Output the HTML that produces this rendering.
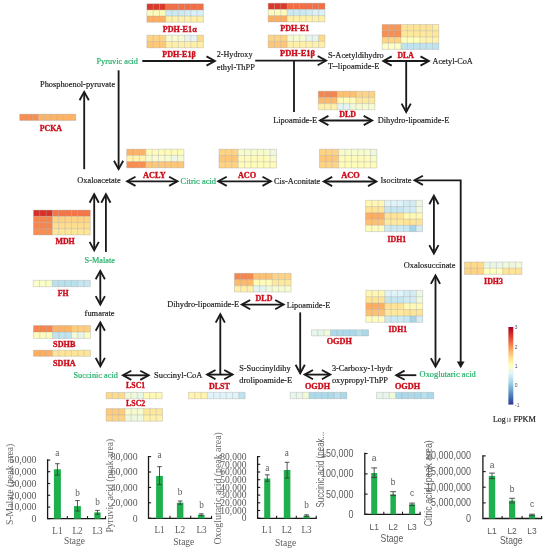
<!DOCTYPE html>
<html><head><meta charset="utf-8"><title>TCA cycle</title>
<style>html,body{margin:0;padding:0;background:#fff;width:545px;height:550px;overflow:hidden}svg{display:block}</style>
</head><body>
<svg width="545" height="550" viewBox="0 0 545 550">
<rect width="545" height="550" fill="#fff"/>
<defs><linearGradient id="cb" x1="0" y1="0" x2="0" y2="1"><stop offset="0.0" stop-color="#a50026"/><stop offset="0.1" stop-color="#d73027"/><stop offset="0.2" stop-color="#f46d43"/><stop offset="0.3" stop-color="#fdae61"/><stop offset="0.4" stop-color="#fee090"/><stop offset="0.5" stop-color="#ffffbf"/><stop offset="0.6" stop-color="#e0f3f8"/><stop offset="0.7" stop-color="#abd9e9"/><stop offset="0.8" stop-color="#74add1"/><stop offset="0.9" stop-color="#4575b4"/><stop offset="1.0" stop-color="#313695"/></linearGradient></defs>
<rect x="146.90" y="3.80" width="6.33" height="6.18" fill="#db382a"/>
<rect x="153.18" y="3.80" width="6.33" height="6.18" fill="#db382a"/>
<rect x="159.46" y="3.80" width="6.33" height="6.18" fill="#db382a"/>
<rect x="165.73" y="3.80" width="6.33" height="6.18" fill="#f46d43"/>
<rect x="172.01" y="3.80" width="6.33" height="6.18" fill="#f46d43"/>
<rect x="178.29" y="3.80" width="6.33" height="6.18" fill="#f46d43"/>
<rect x="184.57" y="3.80" width="6.33" height="6.18" fill="#f46d43"/>
<rect x="190.84" y="3.80" width="6.33" height="6.18" fill="#f46d43"/>
<rect x="197.12" y="3.80" width="6.33" height="6.18" fill="#f46d43"/>
<rect x="146.90" y="9.93" width="6.33" height="6.18" fill="#fffbb9"/>
<rect x="153.18" y="9.93" width="6.33" height="6.18" fill="#fffbb9"/>
<rect x="159.46" y="9.93" width="6.33" height="6.18" fill="#fffbb9"/>
<rect x="165.73" y="9.93" width="6.33" height="6.18" fill="#cce9f2"/>
<rect x="172.01" y="9.93" width="6.33" height="6.18" fill="#cce9f2"/>
<rect x="178.29" y="9.93" width="6.33" height="6.18" fill="#cce9f2"/>
<rect x="184.57" y="9.93" width="6.33" height="6.18" fill="#d3ecf4"/>
<rect x="190.84" y="9.93" width="6.33" height="6.18" fill="#d9f0f6"/>
<rect x="197.12" y="9.93" width="6.33" height="6.18" fill="#d9f0f6"/>
<rect x="146.90" y="16.07" width="6.33" height="6.18" fill="#fdae61"/>
<rect x="153.18" y="16.07" width="6.33" height="6.18" fill="#fdae61"/>
<rect x="159.46" y="16.07" width="6.33" height="6.18" fill="#fdae61"/>
<rect x="165.73" y="16.07" width="6.33" height="6.18" fill="#fef0a8"/>
<rect x="172.01" y="16.07" width="6.33" height="6.18" fill="#fef0a8"/>
<rect x="178.29" y="16.07" width="6.33" height="6.18" fill="#fef0a8"/>
<rect x="184.57" y="16.07" width="6.33" height="6.18" fill="#fef0a8"/>
<rect x="190.84" y="16.07" width="6.33" height="6.18" fill="#fef0a8"/>
<rect x="197.12" y="16.07" width="6.33" height="6.18" fill="#fef0a8"/>
<path d="M153.18 3.80V22.20M159.46 3.80V22.20M165.73 3.80V22.20M172.01 3.80V22.20M178.29 3.80V22.20M184.57 3.80V22.20M190.84 3.80V22.20M197.12 3.80V22.20M146.90 9.93H203.40M146.90 16.07H203.40M146.90 3.80H203.40V22.20H146.90Z" fill="none" stroke="#9a9a9a" stroke-opacity="0.6" stroke-width="0.55"/>
<rect x="146.90" y="35.20" width="6.33" height="6.35" fill="#fed484"/>
<rect x="153.18" y="35.20" width="6.33" height="6.35" fill="#fed484"/>
<rect x="159.46" y="35.20" width="6.33" height="6.35" fill="#fed484"/>
<rect x="165.73" y="35.20" width="6.33" height="6.35" fill="#f3fad4"/>
<rect x="172.01" y="35.20" width="6.33" height="6.35" fill="#f6fbd0"/>
<rect x="178.29" y="35.20" width="6.33" height="6.35" fill="#f6fbd0"/>
<rect x="184.57" y="35.20" width="6.33" height="6.35" fill="#e6f5ed"/>
<rect x="190.84" y="35.20" width="6.33" height="6.35" fill="#e6f5ed"/>
<rect x="197.12" y="35.20" width="6.33" height="6.35" fill="#feda8a"/>
<rect x="146.90" y="41.50" width="6.33" height="6.35" fill="#fec778"/>
<rect x="153.18" y="41.50" width="6.33" height="6.35" fill="#fec778"/>
<rect x="159.46" y="41.50" width="6.33" height="6.35" fill="#fec778"/>
<rect x="165.73" y="41.50" width="6.33" height="6.35" fill="#fef0a8"/>
<rect x="172.01" y="41.50" width="6.33" height="6.35" fill="#fef0a8"/>
<rect x="178.29" y="41.50" width="6.33" height="6.35" fill="#fef0a8"/>
<rect x="184.57" y="41.50" width="6.33" height="6.35" fill="#fef0a8"/>
<rect x="190.84" y="41.50" width="6.33" height="6.35" fill="#fef0a8"/>
<rect x="197.12" y="41.50" width="6.33" height="6.35" fill="#fef0a8"/>
<path d="M153.18 35.20V47.80M159.46 35.20V47.80M165.73 35.20V47.80M172.01 35.20V47.80M178.29 35.20V47.80M184.57 35.20V47.80M190.84 35.20V47.80M197.12 35.20V47.80M146.90 41.50H203.40M146.90 35.20H203.40V47.80H146.90Z" fill="none" stroke="#9a9a9a" stroke-opacity="0.6" stroke-width="0.55"/>
<rect x="268.20" y="3.20" width="6.35" height="6.28" fill="#db382a"/>
<rect x="274.50" y="3.20" width="6.35" height="6.28" fill="#db382a"/>
<rect x="280.80" y="3.20" width="6.35" height="6.28" fill="#db382a"/>
<rect x="287.10" y="3.20" width="6.35" height="6.28" fill="#f46d43"/>
<rect x="293.40" y="3.20" width="6.35" height="6.28" fill="#f46d43"/>
<rect x="299.70" y="3.20" width="6.35" height="6.28" fill="#f46d43"/>
<rect x="306.00" y="3.20" width="6.35" height="6.28" fill="#f46d43"/>
<rect x="312.30" y="3.20" width="6.35" height="6.28" fill="#f46d43"/>
<rect x="318.60" y="3.20" width="6.35" height="6.28" fill="#f46d43"/>
<rect x="268.20" y="9.43" width="6.35" height="6.28" fill="#fffbb9"/>
<rect x="274.50" y="9.43" width="6.35" height="6.28" fill="#fffbb9"/>
<rect x="280.80" y="9.43" width="6.35" height="6.28" fill="#fffbb9"/>
<rect x="287.10" y="9.43" width="6.35" height="6.28" fill="#cce9f2"/>
<rect x="293.40" y="9.43" width="6.35" height="6.28" fill="#cce9f2"/>
<rect x="299.70" y="9.43" width="6.35" height="6.28" fill="#cce9f2"/>
<rect x="306.00" y="9.43" width="6.35" height="6.28" fill="#d3ecf4"/>
<rect x="312.30" y="9.43" width="6.35" height="6.28" fill="#d9f0f6"/>
<rect x="318.60" y="9.43" width="6.35" height="6.28" fill="#d9f0f6"/>
<rect x="268.20" y="15.67" width="6.35" height="6.28" fill="#fdae61"/>
<rect x="274.50" y="15.67" width="6.35" height="6.28" fill="#fdae61"/>
<rect x="280.80" y="15.67" width="6.35" height="6.28" fill="#fdae61"/>
<rect x="287.10" y="15.67" width="6.35" height="6.28" fill="#fef0a8"/>
<rect x="293.40" y="15.67" width="6.35" height="6.28" fill="#fef0a8"/>
<rect x="299.70" y="15.67" width="6.35" height="6.28" fill="#fef0a8"/>
<rect x="306.00" y="15.67" width="6.35" height="6.28" fill="#fef0a8"/>
<rect x="312.30" y="15.67" width="6.35" height="6.28" fill="#fef0a8"/>
<rect x="318.60" y="15.67" width="6.35" height="6.28" fill="#fef0a8"/>
<path d="M274.50 3.20V21.90M280.80 3.20V21.90M287.10 3.20V21.90M293.40 3.20V21.90M299.70 3.20V21.90M306.00 3.20V21.90M312.30 3.20V21.90M318.60 3.20V21.90M268.20 9.43H324.90M268.20 15.67H324.90M268.20 3.20H324.90V21.90H268.20Z" fill="none" stroke="#9a9a9a" stroke-opacity="0.6" stroke-width="0.55"/>
<rect x="268.20" y="35.00" width="6.35" height="6.40" fill="#fed484"/>
<rect x="274.50" y="35.00" width="6.35" height="6.40" fill="#fed484"/>
<rect x="280.80" y="35.00" width="6.35" height="6.40" fill="#fed484"/>
<rect x="287.10" y="35.00" width="6.35" height="6.40" fill="#f3fad4"/>
<rect x="293.40" y="35.00" width="6.35" height="6.40" fill="#f6fbd0"/>
<rect x="299.70" y="35.00" width="6.35" height="6.40" fill="#f6fbd0"/>
<rect x="306.00" y="35.00" width="6.35" height="6.40" fill="#e6f5ed"/>
<rect x="312.30" y="35.00" width="6.35" height="6.40" fill="#e6f5ed"/>
<rect x="318.60" y="35.00" width="6.35" height="6.40" fill="#feda8a"/>
<rect x="268.20" y="41.35" width="6.35" height="6.40" fill="#fec778"/>
<rect x="274.50" y="41.35" width="6.35" height="6.40" fill="#fec778"/>
<rect x="280.80" y="41.35" width="6.35" height="6.40" fill="#fec778"/>
<rect x="287.10" y="41.35" width="6.35" height="6.40" fill="#fef0a8"/>
<rect x="293.40" y="41.35" width="6.35" height="6.40" fill="#fef0a8"/>
<rect x="299.70" y="41.35" width="6.35" height="6.40" fill="#fef0a8"/>
<rect x="306.00" y="41.35" width="6.35" height="6.40" fill="#fef0a8"/>
<rect x="312.30" y="41.35" width="6.35" height="6.40" fill="#fef0a8"/>
<rect x="318.60" y="41.35" width="6.35" height="6.40" fill="#fef0a8"/>
<path d="M274.50 35.00V47.70M280.80 35.00V47.70M287.10 35.00V47.70M293.40 35.00V47.70M299.70 35.00V47.70M306.00 35.00V47.70M312.30 35.00V47.70M318.60 35.00V47.70M268.20 41.35H324.90M268.20 35.00H324.90V47.70H268.20Z" fill="none" stroke="#9a9a9a" stroke-opacity="0.6" stroke-width="0.55"/>
<rect x="382.10" y="24.50" width="6.35" height="6.27" fill="#fa9656"/>
<rect x="388.40" y="24.50" width="6.35" height="6.27" fill="#fa9656"/>
<rect x="394.70" y="24.50" width="6.35" height="6.27" fill="#fa9656"/>
<rect x="401.00" y="24.50" width="6.35" height="6.27" fill="#fee496"/>
<rect x="407.30" y="24.50" width="6.35" height="6.27" fill="#fee496"/>
<rect x="413.60" y="24.50" width="6.35" height="6.27" fill="#fee496"/>
<rect x="419.90" y="24.50" width="6.35" height="6.27" fill="#fee496"/>
<rect x="426.20" y="24.50" width="6.35" height="6.27" fill="#fee496"/>
<rect x="432.50" y="24.50" width="6.35" height="6.27" fill="#feeca2"/>
<rect x="382.10" y="30.73" width="6.35" height="6.27" fill="#f88e52"/>
<rect x="388.40" y="30.73" width="6.35" height="6.27" fill="#f88e52"/>
<rect x="394.70" y="30.73" width="6.35" height="6.27" fill="#f88e52"/>
<rect x="401.00" y="30.73" width="6.35" height="6.27" fill="#fee89c"/>
<rect x="407.30" y="30.73" width="6.35" height="6.27" fill="#fee89c"/>
<rect x="413.60" y="30.73" width="6.35" height="6.27" fill="#fee89c"/>
<rect x="419.90" y="30.73" width="6.35" height="6.27" fill="#fee89c"/>
<rect x="426.20" y="30.73" width="6.35" height="6.27" fill="#fee89c"/>
<rect x="432.50" y="30.73" width="6.35" height="6.27" fill="#fee89c"/>
<rect x="382.10" y="36.95" width="6.35" height="6.27" fill="#fed484"/>
<rect x="388.40" y="36.95" width="6.35" height="6.27" fill="#fed484"/>
<rect x="394.70" y="36.95" width="6.35" height="6.27" fill="#fed484"/>
<rect x="401.00" y="36.95" width="6.35" height="6.27" fill="#ffffbf"/>
<rect x="407.30" y="36.95" width="6.35" height="6.27" fill="#ffffbf"/>
<rect x="413.60" y="36.95" width="6.35" height="6.27" fill="#ffffbf"/>
<rect x="419.90" y="36.95" width="6.35" height="6.27" fill="#fff3ad"/>
<rect x="426.20" y="36.95" width="6.35" height="6.27" fill="#fff3ad"/>
<rect x="432.50" y="36.95" width="6.35" height="6.27" fill="#fff3ad"/>
<rect x="382.10" y="43.17" width="6.35" height="6.27" fill="#fbfec6"/>
<rect x="388.40" y="43.17" width="6.35" height="6.27" fill="#fbfec6"/>
<rect x="394.70" y="43.17" width="6.35" height="6.27" fill="#fbfec6"/>
<rect x="401.00" y="43.17" width="6.35" height="6.27" fill="#bfe3ef"/>
<rect x="407.30" y="43.17" width="6.35" height="6.27" fill="#bfe3ef"/>
<rect x="413.60" y="43.17" width="6.35" height="6.27" fill="#bfe3ef"/>
<rect x="419.90" y="43.17" width="6.35" height="6.27" fill="#bfe3ef"/>
<rect x="426.20" y="43.17" width="6.35" height="6.27" fill="#bfe3ef"/>
<rect x="432.50" y="43.17" width="6.35" height="6.27" fill="#bfe3ef"/>
<path d="M388.40 24.50V49.40M394.70 24.50V49.40M401.00 24.50V49.40M407.30 24.50V49.40M413.60 24.50V49.40M419.90 24.50V49.40M426.20 24.50V49.40M432.50 24.50V49.40M382.10 30.73H438.80M382.10 36.95H438.80M382.10 43.17H438.80M382.10 24.50H438.80V49.40H382.10Z" fill="none" stroke="#9a9a9a" stroke-opacity="0.6" stroke-width="0.55"/>
<rect x="318.30" y="91.20" width="6.34" height="6.25" fill="#f7854e"/>
<rect x="324.59" y="91.20" width="6.34" height="6.25" fill="#f7854e"/>
<rect x="330.88" y="91.20" width="6.34" height="6.25" fill="#f7854e"/>
<rect x="337.17" y="91.20" width="6.34" height="6.25" fill="#fdc173"/>
<rect x="343.46" y="91.20" width="6.34" height="6.25" fill="#fdc173"/>
<rect x="349.74" y="91.20" width="6.34" height="6.25" fill="#fdc173"/>
<rect x="356.03" y="91.20" width="6.34" height="6.25" fill="#fed484"/>
<rect x="362.32" y="91.20" width="6.34" height="6.25" fill="#fed484"/>
<rect x="368.61" y="91.20" width="6.34" height="6.25" fill="#fed484"/>
<rect x="318.30" y="97.40" width="6.34" height="6.25" fill="#fdba6d"/>
<rect x="324.59" y="97.40" width="6.34" height="6.25" fill="#fdba6d"/>
<rect x="330.88" y="97.40" width="6.34" height="6.25" fill="#fdba6d"/>
<rect x="337.17" y="97.40" width="6.34" height="6.25" fill="#fffbb9"/>
<rect x="343.46" y="97.40" width="6.34" height="6.25" fill="#fffbb9"/>
<rect x="349.74" y="97.40" width="6.34" height="6.25" fill="#fffbb9"/>
<rect x="356.03" y="97.40" width="6.34" height="6.25" fill="#fee89c"/>
<rect x="362.32" y="97.40" width="6.34" height="6.25" fill="#fee89c"/>
<rect x="368.61" y="97.40" width="6.34" height="6.25" fill="#fee89c"/>
<rect x="318.30" y="103.60" width="6.34" height="6.25" fill="#fef0a8"/>
<rect x="324.59" y="103.60" width="6.34" height="6.25" fill="#fef0a8"/>
<rect x="330.88" y="103.60" width="6.34" height="6.25" fill="#fef0a8"/>
<rect x="337.17" y="103.60" width="6.34" height="6.25" fill="#e4f4f1"/>
<rect x="343.46" y="103.60" width="6.34" height="6.25" fill="#e4f4f1"/>
<rect x="349.74" y="103.60" width="6.34" height="6.25" fill="#f0f9dc"/>
<rect x="356.03" y="103.60" width="6.34" height="6.25" fill="#f6fbd0"/>
<rect x="362.32" y="103.60" width="6.34" height="6.25" fill="#f6fbd0"/>
<rect x="368.61" y="103.60" width="6.34" height="6.25" fill="#f6fbd0"/>
<path d="M324.59 91.20V109.80M330.88 91.20V109.80M337.17 91.20V109.80M343.46 91.20V109.80M349.74 91.20V109.80M356.03 91.20V109.80M362.32 91.20V109.80M368.61 91.20V109.80M318.30 97.40H374.90M318.30 103.60H374.90M318.30 91.20H374.90V109.80H318.30Z" fill="none" stroke="#9a9a9a" stroke-opacity="0.6" stroke-width="0.55"/>
<rect x="19.70" y="114.20" width="6.28" height="6.25" fill="#f88e52"/>
<rect x="25.93" y="114.20" width="6.28" height="6.25" fill="#f88e52"/>
<rect x="32.17" y="114.20" width="6.28" height="6.25" fill="#f88e52"/>
<rect x="38.40" y="114.20" width="6.28" height="6.25" fill="#fdb467"/>
<rect x="44.63" y="114.20" width="6.28" height="6.25" fill="#fdb467"/>
<rect x="50.87" y="114.20" width="6.28" height="6.25" fill="#fdb467"/>
<rect x="57.10" y="114.20" width="6.28" height="6.25" fill="#fdb467"/>
<rect x="63.33" y="114.20" width="6.28" height="6.25" fill="#fdb467"/>
<rect x="69.57" y="114.20" width="6.28" height="6.25" fill="#fdb467"/>
<path d="M25.93 114.20V120.40M32.17 114.20V120.40M38.40 114.20V120.40M44.63 114.20V120.40M50.87 114.20V120.40M57.10 114.20V120.40M63.33 114.20V120.40M69.57 114.20V120.40M19.70 114.20H75.80V120.40H19.70Z" fill="none" stroke="#9a9a9a" stroke-opacity="0.6" stroke-width="0.55"/>
<rect x="126.70" y="149.20" width="6.41" height="6.25" fill="#fdb467"/>
<rect x="133.06" y="149.20" width="6.41" height="6.25" fill="#fdb467"/>
<rect x="139.41" y="149.20" width="6.41" height="6.25" fill="#fdb467"/>
<rect x="145.77" y="149.20" width="6.41" height="6.25" fill="#fffbb9"/>
<rect x="152.12" y="149.20" width="6.41" height="6.25" fill="#fffbb9"/>
<rect x="158.48" y="149.20" width="6.41" height="6.25" fill="#fffbb9"/>
<rect x="164.83" y="149.20" width="6.41" height="6.25" fill="#fffbb9"/>
<rect x="171.19" y="149.20" width="6.41" height="6.25" fill="#fffbb9"/>
<rect x="177.54" y="149.20" width="6.41" height="6.25" fill="#fffbb9"/>
<rect x="126.70" y="155.40" width="6.41" height="6.25" fill="#fff3ad"/>
<rect x="133.06" y="155.40" width="6.41" height="6.25" fill="#fff3ad"/>
<rect x="139.41" y="155.40" width="6.41" height="6.25" fill="#fff3ad"/>
<rect x="145.77" y="155.40" width="6.41" height="6.25" fill="#f6fbd0"/>
<rect x="152.12" y="155.40" width="6.41" height="6.25" fill="#f6fbd0"/>
<rect x="158.48" y="155.40" width="6.41" height="6.25" fill="#f6fbd0"/>
<rect x="164.83" y="155.40" width="6.41" height="6.25" fill="#f6fbd0"/>
<rect x="171.19" y="155.40" width="6.41" height="6.25" fill="#ecf8e3"/>
<rect x="177.54" y="155.40" width="6.41" height="6.25" fill="#f6fbd0"/>
<rect x="126.70" y="161.60" width="6.41" height="6.25" fill="#f88e52"/>
<rect x="133.06" y="161.60" width="6.41" height="6.25" fill="#f88e52"/>
<rect x="139.41" y="161.60" width="6.41" height="6.25" fill="#f88e52"/>
<rect x="145.77" y="161.60" width="6.41" height="6.25" fill="#fec778"/>
<rect x="152.12" y="161.60" width="6.41" height="6.25" fill="#fec778"/>
<rect x="158.48" y="161.60" width="6.41" height="6.25" fill="#fec778"/>
<rect x="164.83" y="161.60" width="6.41" height="6.25" fill="#fec778"/>
<rect x="171.19" y="161.60" width="6.41" height="6.25" fill="#fec778"/>
<rect x="177.54" y="161.60" width="6.41" height="6.25" fill="#fec778"/>
<path d="M133.06 149.20V167.80M139.41 149.20V167.80M145.77 149.20V167.80M152.12 149.20V167.80M158.48 149.20V167.80M164.83 149.20V167.80M171.19 149.20V167.80M177.54 149.20V167.80M126.70 155.40H183.90M126.70 161.60H183.90M126.70 149.20H183.90V167.80H126.70Z" fill="none" stroke="#9a9a9a" stroke-opacity="0.6" stroke-width="0.55"/>
<rect x="219.00" y="149.20" width="6.44" height="6.32" fill="#fed484"/>
<rect x="225.39" y="149.20" width="6.44" height="6.32" fill="#fed484"/>
<rect x="231.78" y="149.20" width="6.44" height="6.32" fill="#fed484"/>
<rect x="238.17" y="149.20" width="6.44" height="6.32" fill="#f7fccd"/>
<rect x="244.56" y="149.20" width="6.44" height="6.32" fill="#f7fccd"/>
<rect x="250.94" y="149.20" width="6.44" height="6.32" fill="#f7fccd"/>
<rect x="257.33" y="149.20" width="6.44" height="6.32" fill="#f7fccd"/>
<rect x="263.72" y="149.20" width="6.44" height="6.32" fill="#f7fccd"/>
<rect x="270.11" y="149.20" width="6.44" height="6.32" fill="#eef8de"/>
<rect x="219.00" y="155.47" width="6.44" height="6.32" fill="#fec778"/>
<rect x="225.39" y="155.47" width="6.44" height="6.32" fill="#fec778"/>
<rect x="231.78" y="155.47" width="6.44" height="6.32" fill="#fec778"/>
<rect x="238.17" y="155.47" width="6.44" height="6.32" fill="#fffbb9"/>
<rect x="244.56" y="155.47" width="6.44" height="6.32" fill="#fffbb9"/>
<rect x="250.94" y="155.47" width="6.44" height="6.32" fill="#fffbb9"/>
<rect x="257.33" y="155.47" width="6.44" height="6.32" fill="#fffbb9"/>
<rect x="263.72" y="155.47" width="6.44" height="6.32" fill="#fffbb9"/>
<rect x="270.11" y="155.47" width="6.44" height="6.32" fill="#f7fccd"/>
<rect x="219.00" y="161.73" width="6.44" height="6.32" fill="#fed484"/>
<rect x="225.39" y="161.73" width="6.44" height="6.32" fill="#fed484"/>
<rect x="231.78" y="161.73" width="6.44" height="6.32" fill="#fed484"/>
<rect x="238.17" y="161.73" width="6.44" height="6.32" fill="#fffbb9"/>
<rect x="244.56" y="161.73" width="6.44" height="6.32" fill="#fffbb9"/>
<rect x="250.94" y="161.73" width="6.44" height="6.32" fill="#fffbb9"/>
<rect x="257.33" y="161.73" width="6.44" height="6.32" fill="#fffbb9"/>
<rect x="263.72" y="161.73" width="6.44" height="6.32" fill="#fffbb9"/>
<rect x="270.11" y="161.73" width="6.44" height="6.32" fill="#fffbb9"/>
<path d="M225.39 149.20V168.00M231.78 149.20V168.00M238.17 149.20V168.00M244.56 149.20V168.00M250.94 149.20V168.00M257.33 149.20V168.00M263.72 149.20V168.00M270.11 149.20V168.00M219.00 155.47H276.50M219.00 161.73H276.50M219.00 149.20H276.50V168.00H219.00Z" fill="none" stroke="#9a9a9a" stroke-opacity="0.6" stroke-width="0.55"/>
<rect x="319.50" y="149.20" width="6.43" height="6.32" fill="#fed484"/>
<rect x="325.88" y="149.20" width="6.43" height="6.32" fill="#fed484"/>
<rect x="332.26" y="149.20" width="6.43" height="6.32" fill="#fed484"/>
<rect x="338.63" y="149.20" width="6.43" height="6.32" fill="#f7fccd"/>
<rect x="345.01" y="149.20" width="6.43" height="6.32" fill="#f7fccd"/>
<rect x="351.39" y="149.20" width="6.43" height="6.32" fill="#f7fccd"/>
<rect x="357.77" y="149.20" width="6.43" height="6.32" fill="#f7fccd"/>
<rect x="364.14" y="149.20" width="6.43" height="6.32" fill="#f7fccd"/>
<rect x="370.52" y="149.20" width="6.43" height="6.32" fill="#eef8de"/>
<rect x="319.50" y="155.47" width="6.43" height="6.32" fill="#fec778"/>
<rect x="325.88" y="155.47" width="6.43" height="6.32" fill="#fec778"/>
<rect x="332.26" y="155.47" width="6.43" height="6.32" fill="#fec778"/>
<rect x="338.63" y="155.47" width="6.43" height="6.32" fill="#fffbb9"/>
<rect x="345.01" y="155.47" width="6.43" height="6.32" fill="#fffbb9"/>
<rect x="351.39" y="155.47" width="6.43" height="6.32" fill="#fffbb9"/>
<rect x="357.77" y="155.47" width="6.43" height="6.32" fill="#fffbb9"/>
<rect x="364.14" y="155.47" width="6.43" height="6.32" fill="#fffbb9"/>
<rect x="370.52" y="155.47" width="6.43" height="6.32" fill="#f7fccd"/>
<rect x="319.50" y="161.73" width="6.43" height="6.32" fill="#fed484"/>
<rect x="325.88" y="161.73" width="6.43" height="6.32" fill="#fed484"/>
<rect x="332.26" y="161.73" width="6.43" height="6.32" fill="#fed484"/>
<rect x="338.63" y="161.73" width="6.43" height="6.32" fill="#fffbb9"/>
<rect x="345.01" y="161.73" width="6.43" height="6.32" fill="#fffbb9"/>
<rect x="351.39" y="161.73" width="6.43" height="6.32" fill="#fffbb9"/>
<rect x="357.77" y="161.73" width="6.43" height="6.32" fill="#fffbb9"/>
<rect x="364.14" y="161.73" width="6.43" height="6.32" fill="#fffbb9"/>
<rect x="370.52" y="161.73" width="6.43" height="6.32" fill="#fffbb9"/>
<path d="M325.88 149.20V168.00M332.26 149.20V168.00M338.63 149.20V168.00M345.01 149.20V168.00M351.39 149.20V168.00M357.77 149.20V168.00M364.14 149.20V168.00M370.52 149.20V168.00M319.50 155.47H376.90M319.50 161.73H376.90M319.50 149.20H376.90V168.00H319.50Z" fill="none" stroke="#9a9a9a" stroke-opacity="0.6" stroke-width="0.55"/>
<rect x="365.50" y="200.30" width="6.38" height="6.31" fill="#fff6b1"/>
<rect x="371.83" y="200.30" width="6.38" height="6.31" fill="#fff6b1"/>
<rect x="378.17" y="200.30" width="6.38" height="6.31" fill="#fff6b1"/>
<rect x="384.50" y="200.30" width="6.38" height="6.31" fill="#e0f3f8"/>
<rect x="390.83" y="200.30" width="6.38" height="6.31" fill="#e0f3f8"/>
<rect x="397.17" y="200.30" width="6.38" height="6.31" fill="#e0f3f8"/>
<rect x="403.50" y="200.30" width="6.38" height="6.31" fill="#d3ecf4"/>
<rect x="409.83" y="200.30" width="6.38" height="6.31" fill="#d3ecf4"/>
<rect x="416.17" y="200.30" width="6.38" height="6.31" fill="#ecf8e3"/>
<rect x="365.50" y="206.56" width="6.38" height="6.31" fill="#fee496"/>
<rect x="371.83" y="206.56" width="6.38" height="6.31" fill="#fee496"/>
<rect x="378.17" y="206.56" width="6.38" height="6.31" fill="#fee496"/>
<rect x="384.50" y="206.56" width="6.38" height="6.31" fill="#c6e6f0"/>
<rect x="390.83" y="206.56" width="6.38" height="6.31" fill="#c6e6f0"/>
<rect x="397.17" y="206.56" width="6.38" height="6.31" fill="#c6e6f0"/>
<rect x="403.50" y="206.56" width="6.38" height="6.31" fill="#d3ecf4"/>
<rect x="409.83" y="206.56" width="6.38" height="6.31" fill="#d3ecf4"/>
<rect x="416.17" y="206.56" width="6.38" height="6.31" fill="#f0f9dc"/>
<rect x="365.50" y="212.82" width="6.38" height="6.31" fill="#fdae61"/>
<rect x="371.83" y="212.82" width="6.38" height="6.31" fill="#fdae61"/>
<rect x="378.17" y="212.82" width="6.38" height="6.31" fill="#fdae61"/>
<rect x="384.50" y="212.82" width="6.38" height="6.31" fill="#fee496"/>
<rect x="390.83" y="212.82" width="6.38" height="6.31" fill="#fee496"/>
<rect x="397.17" y="212.82" width="6.38" height="6.31" fill="#fee496"/>
<rect x="403.50" y="212.82" width="6.38" height="6.31" fill="#fff9b6"/>
<rect x="409.83" y="212.82" width="6.38" height="6.31" fill="#fff9b6"/>
<rect x="416.17" y="212.82" width="6.38" height="6.31" fill="#fff9b6"/>
<rect x="365.50" y="219.08" width="6.38" height="6.31" fill="#fdc173"/>
<rect x="371.83" y="219.08" width="6.38" height="6.31" fill="#fdc173"/>
<rect x="378.17" y="219.08" width="6.38" height="6.31" fill="#fdc173"/>
<rect x="384.50" y="219.08" width="6.38" height="6.31" fill="#fee99e"/>
<rect x="390.83" y="219.08" width="6.38" height="6.31" fill="#fee99e"/>
<rect x="397.17" y="219.08" width="6.38" height="6.31" fill="#fee99e"/>
<rect x="403.50" y="219.08" width="6.38" height="6.31" fill="#fee496"/>
<rect x="409.83" y="219.08" width="6.38" height="6.31" fill="#fee496"/>
<rect x="416.17" y="219.08" width="6.38" height="6.31" fill="#fee496"/>
<rect x="365.50" y="225.34" width="6.38" height="6.31" fill="#fffdbd"/>
<rect x="371.83" y="225.34" width="6.38" height="6.31" fill="#fffdbd"/>
<rect x="378.17" y="225.34" width="6.38" height="6.31" fill="#fffdbd"/>
<rect x="384.50" y="225.34" width="6.38" height="6.31" fill="#cce9f2"/>
<rect x="390.83" y="225.34" width="6.38" height="6.31" fill="#cce9f2"/>
<rect x="397.17" y="225.34" width="6.38" height="6.31" fill="#cce9f2"/>
<rect x="403.50" y="225.34" width="6.38" height="6.31" fill="#c6e6f0"/>
<rect x="409.83" y="225.34" width="6.38" height="6.31" fill="#a4d4e6"/>
<rect x="416.17" y="225.34" width="6.38" height="6.31" fill="#d3ecf4"/>
<path d="M371.83 200.30V231.60M378.17 200.30V231.60M384.50 200.30V231.60M390.83 200.30V231.60M397.17 200.30V231.60M403.50 200.30V231.60M409.83 200.30V231.60M416.17 200.30V231.60M365.50 206.56H422.50M365.50 212.82H422.50M365.50 219.08H422.50M365.50 225.34H422.50M365.50 200.30H422.50V231.60H365.50Z" fill="none" stroke="#9a9a9a" stroke-opacity="0.6" stroke-width="0.55"/>
<rect x="464.50" y="262.00" width="6.43" height="6.25" fill="#feda8a"/>
<rect x="470.88" y="262.00" width="6.43" height="6.25" fill="#feda8a"/>
<rect x="477.26" y="262.00" width="6.43" height="6.25" fill="#feda8a"/>
<rect x="483.63" y="262.00" width="6.43" height="6.25" fill="#e9f7e7"/>
<rect x="490.01" y="262.00" width="6.43" height="6.25" fill="#e9f7e7"/>
<rect x="496.39" y="262.00" width="6.43" height="6.25" fill="#e9f7e7"/>
<rect x="502.77" y="262.00" width="6.43" height="6.25" fill="#f1fad9"/>
<rect x="509.14" y="262.00" width="6.43" height="6.25" fill="#eef8de"/>
<rect x="515.52" y="262.00" width="6.43" height="6.25" fill="#f1fad9"/>
<rect x="464.50" y="268.20" width="6.43" height="6.25" fill="#fed484"/>
<rect x="470.88" y="268.20" width="6.43" height="6.25" fill="#fed484"/>
<rect x="477.26" y="268.20" width="6.43" height="6.25" fill="#fed484"/>
<rect x="483.63" y="268.20" width="6.43" height="6.25" fill="#ffffbf"/>
<rect x="490.01" y="268.20" width="6.43" height="6.25" fill="#ffffbf"/>
<rect x="496.39" y="268.20" width="6.43" height="6.25" fill="#ffffbf"/>
<rect x="502.77" y="268.20" width="6.43" height="6.25" fill="#fee496"/>
<rect x="509.14" y="268.20" width="6.43" height="6.25" fill="#fee496"/>
<rect x="515.52" y="268.20" width="6.43" height="6.25" fill="#fee496"/>
<path d="M470.88 262.00V274.40M477.26 262.00V274.40M483.63 262.00V274.40M490.01 262.00V274.40M496.39 262.00V274.40M502.77 262.00V274.40M509.14 262.00V274.40M515.52 262.00V274.40M464.50 268.20H521.90M464.50 262.00H521.90V274.40H464.50Z" fill="none" stroke="#9a9a9a" stroke-opacity="0.6" stroke-width="0.55"/>
<rect x="365.80" y="290.30" width="6.37" height="6.45" fill="#fff6b1"/>
<rect x="372.12" y="290.30" width="6.37" height="6.45" fill="#fff6b1"/>
<rect x="378.44" y="290.30" width="6.37" height="6.45" fill="#fff6b1"/>
<rect x="384.77" y="290.30" width="6.37" height="6.45" fill="#e0f3f8"/>
<rect x="391.09" y="290.30" width="6.37" height="6.45" fill="#e0f3f8"/>
<rect x="397.41" y="290.30" width="6.37" height="6.45" fill="#e0f3f8"/>
<rect x="403.73" y="290.30" width="6.37" height="6.45" fill="#d3ecf4"/>
<rect x="410.06" y="290.30" width="6.37" height="6.45" fill="#d3ecf4"/>
<rect x="416.38" y="290.30" width="6.37" height="6.45" fill="#ecf8e3"/>
<rect x="365.80" y="296.70" width="6.37" height="6.45" fill="#fee496"/>
<rect x="372.12" y="296.70" width="6.37" height="6.45" fill="#fee496"/>
<rect x="378.44" y="296.70" width="6.37" height="6.45" fill="#fee496"/>
<rect x="384.77" y="296.70" width="6.37" height="6.45" fill="#c6e6f0"/>
<rect x="391.09" y="296.70" width="6.37" height="6.45" fill="#c6e6f0"/>
<rect x="397.41" y="296.70" width="6.37" height="6.45" fill="#c6e6f0"/>
<rect x="403.73" y="296.70" width="6.37" height="6.45" fill="#d3ecf4"/>
<rect x="410.06" y="296.70" width="6.37" height="6.45" fill="#d3ecf4"/>
<rect x="416.38" y="296.70" width="6.37" height="6.45" fill="#f0f9dc"/>
<rect x="365.80" y="303.10" width="6.37" height="6.45" fill="#fdae61"/>
<rect x="372.12" y="303.10" width="6.37" height="6.45" fill="#fdae61"/>
<rect x="378.44" y="303.10" width="6.37" height="6.45" fill="#fdae61"/>
<rect x="384.77" y="303.10" width="6.37" height="6.45" fill="#fee496"/>
<rect x="391.09" y="303.10" width="6.37" height="6.45" fill="#fee496"/>
<rect x="397.41" y="303.10" width="6.37" height="6.45" fill="#fee496"/>
<rect x="403.73" y="303.10" width="6.37" height="6.45" fill="#fff9b6"/>
<rect x="410.06" y="303.10" width="6.37" height="6.45" fill="#fff9b6"/>
<rect x="416.38" y="303.10" width="6.37" height="6.45" fill="#fff9b6"/>
<rect x="365.80" y="309.50" width="6.37" height="6.45" fill="#fdc173"/>
<rect x="372.12" y="309.50" width="6.37" height="6.45" fill="#fdc173"/>
<rect x="378.44" y="309.50" width="6.37" height="6.45" fill="#fdc173"/>
<rect x="384.77" y="309.50" width="6.37" height="6.45" fill="#fee99e"/>
<rect x="391.09" y="309.50" width="6.37" height="6.45" fill="#fee99e"/>
<rect x="397.41" y="309.50" width="6.37" height="6.45" fill="#fee99e"/>
<rect x="403.73" y="309.50" width="6.37" height="6.45" fill="#fee496"/>
<rect x="410.06" y="309.50" width="6.37" height="6.45" fill="#fee496"/>
<rect x="416.38" y="309.50" width="6.37" height="6.45" fill="#fee496"/>
<rect x="365.80" y="315.90" width="6.37" height="6.45" fill="#fffdbd"/>
<rect x="372.12" y="315.90" width="6.37" height="6.45" fill="#fffdbd"/>
<rect x="378.44" y="315.90" width="6.37" height="6.45" fill="#fffdbd"/>
<rect x="384.77" y="315.90" width="6.37" height="6.45" fill="#cce9f2"/>
<rect x="391.09" y="315.90" width="6.37" height="6.45" fill="#cce9f2"/>
<rect x="397.41" y="315.90" width="6.37" height="6.45" fill="#cce9f2"/>
<rect x="403.73" y="315.90" width="6.37" height="6.45" fill="#c6e6f0"/>
<rect x="410.06" y="315.90" width="6.37" height="6.45" fill="#a4d4e6"/>
<rect x="416.38" y="315.90" width="6.37" height="6.45" fill="#d3ecf4"/>
<path d="M372.12 290.30V322.30M378.44 290.30V322.30M384.77 290.30V322.30M391.09 290.30V322.30M397.41 290.30V322.30M403.73 290.30V322.30M410.06 290.30V322.30M416.38 290.30V322.30M365.80 296.70H422.70M365.80 303.10H422.70M365.80 309.50H422.70M365.80 315.90H422.70M365.80 290.30H422.70V322.30H365.80Z" fill="none" stroke="#9a9a9a" stroke-opacity="0.6" stroke-width="0.55"/>
<rect x="33.50" y="210.10" width="6.36" height="6.25" fill="#d73027"/>
<rect x="39.81" y="210.10" width="6.36" height="6.25" fill="#d73027"/>
<rect x="46.12" y="210.10" width="6.36" height="6.25" fill="#d73027"/>
<rect x="52.43" y="210.10" width="6.36" height="6.25" fill="#f57547"/>
<rect x="58.74" y="210.10" width="6.36" height="6.25" fill="#f57547"/>
<rect x="65.06" y="210.10" width="6.36" height="6.25" fill="#f57547"/>
<rect x="71.37" y="210.10" width="6.36" height="6.25" fill="#f57547"/>
<rect x="77.68" y="210.10" width="6.36" height="6.25" fill="#f57547"/>
<rect x="83.99" y="210.10" width="6.36" height="6.25" fill="#f57547"/>
<rect x="33.50" y="216.30" width="6.36" height="6.25" fill="#f7854e"/>
<rect x="39.81" y="216.30" width="6.36" height="6.25" fill="#f7854e"/>
<rect x="46.12" y="216.30" width="6.36" height="6.25" fill="#f7854e"/>
<rect x="52.43" y="216.30" width="6.36" height="6.25" fill="#fed484"/>
<rect x="58.74" y="216.30" width="6.36" height="6.25" fill="#fed484"/>
<rect x="65.06" y="216.30" width="6.36" height="6.25" fill="#fed484"/>
<rect x="71.37" y="216.30" width="6.36" height="6.25" fill="#fed484"/>
<rect x="77.68" y="216.30" width="6.36" height="6.25" fill="#fed484"/>
<rect x="83.99" y="216.30" width="6.36" height="6.25" fill="#fed484"/>
<rect x="33.50" y="222.50" width="6.36" height="6.25" fill="#f7854e"/>
<rect x="39.81" y="222.50" width="6.36" height="6.25" fill="#f7854e"/>
<rect x="46.12" y="222.50" width="6.36" height="6.25" fill="#f7854e"/>
<rect x="52.43" y="222.50" width="6.36" height="6.25" fill="#fede8e"/>
<rect x="58.74" y="222.50" width="6.36" height="6.25" fill="#fede8e"/>
<rect x="65.06" y="222.50" width="6.36" height="6.25" fill="#fede8e"/>
<rect x="71.37" y="222.50" width="6.36" height="6.25" fill="#fede8e"/>
<rect x="77.68" y="222.50" width="6.36" height="6.25" fill="#fede8e"/>
<rect x="83.99" y="222.50" width="6.36" height="6.25" fill="#fede8e"/>
<rect x="33.50" y="228.70" width="6.36" height="6.25" fill="#f88e52"/>
<rect x="39.81" y="228.70" width="6.36" height="6.25" fill="#f88e52"/>
<rect x="46.12" y="228.70" width="6.36" height="6.25" fill="#f88e52"/>
<rect x="52.43" y="228.70" width="6.36" height="6.25" fill="#fee699"/>
<rect x="58.74" y="228.70" width="6.36" height="6.25" fill="#fee699"/>
<rect x="65.06" y="228.70" width="6.36" height="6.25" fill="#fee699"/>
<rect x="71.37" y="228.70" width="6.36" height="6.25" fill="#fee699"/>
<rect x="77.68" y="228.70" width="6.36" height="6.25" fill="#fee699"/>
<rect x="83.99" y="228.70" width="6.36" height="6.25" fill="#fee699"/>
<path d="M39.81 210.10V234.90M46.12 210.10V234.90M52.43 210.10V234.90M58.74 210.10V234.90M65.06 210.10V234.90M71.37 210.10V234.90M77.68 210.10V234.90M83.99 210.10V234.90M33.50 216.30H90.30M33.50 222.50H90.30M33.50 228.70H90.30M33.50 210.10H90.30V234.90H33.50Z" fill="none" stroke="#9a9a9a" stroke-opacity="0.6" stroke-width="0.55"/>
<rect x="33.20" y="280.30" width="6.39" height="6.45" fill="#fbfec6"/>
<rect x="39.54" y="280.30" width="6.39" height="6.45" fill="#fbfec6"/>
<rect x="45.89" y="280.30" width="6.39" height="6.45" fill="#fbfec6"/>
<rect x="52.23" y="280.30" width="6.39" height="6.45" fill="#b8e0ed"/>
<rect x="58.58" y="280.30" width="6.39" height="6.45" fill="#b8e0ed"/>
<rect x="64.92" y="280.30" width="6.39" height="6.45" fill="#b8e0ed"/>
<rect x="71.27" y="280.30" width="6.39" height="6.45" fill="#b8e0ed"/>
<rect x="77.61" y="280.30" width="6.39" height="6.45" fill="#c6e6f0"/>
<rect x="83.96" y="280.30" width="6.39" height="6.45" fill="#c6e6f0"/>
<path d="M39.54 280.30V286.70M45.89 280.30V286.70M52.23 280.30V286.70M58.58 280.30V286.70M64.92 280.30V286.70M71.27 280.30V286.70M77.61 280.30V286.70M83.96 280.30V286.70M33.20 280.30H90.30V286.70H33.20Z" fill="none" stroke="#9a9a9a" stroke-opacity="0.6" stroke-width="0.55"/>
<rect x="33.50" y="325.60" width="6.38" height="6.45" fill="#f7854e"/>
<rect x="39.83" y="325.60" width="6.38" height="6.45" fill="#f7854e"/>
<rect x="46.17" y="325.60" width="6.38" height="6.45" fill="#f7854e"/>
<rect x="52.50" y="325.60" width="6.38" height="6.45" fill="#fdb467"/>
<rect x="58.83" y="325.60" width="6.38" height="6.45" fill="#fdb467"/>
<rect x="65.17" y="325.60" width="6.38" height="6.45" fill="#fdb467"/>
<rect x="71.50" y="325.60" width="6.38" height="6.45" fill="#fecd7e"/>
<rect x="77.83" y="325.60" width="6.38" height="6.45" fill="#fecd7e"/>
<rect x="84.17" y="325.60" width="6.38" height="6.45" fill="#fecd7e"/>
<rect x="33.50" y="332.00" width="6.38" height="6.45" fill="#fffdbd"/>
<rect x="39.83" y="332.00" width="6.38" height="6.45" fill="#fffdbd"/>
<rect x="46.17" y="332.00" width="6.38" height="6.45" fill="#fffdbd"/>
<rect x="52.50" y="332.00" width="6.38" height="6.45" fill="#bfe3ef"/>
<rect x="58.83" y="332.00" width="6.38" height="6.45" fill="#bfe3ef"/>
<rect x="65.17" y="332.00" width="6.38" height="6.45" fill="#bfe3ef"/>
<rect x="71.50" y="332.00" width="6.38" height="6.45" fill="#f3fad4"/>
<rect x="77.83" y="332.00" width="6.38" height="6.45" fill="#e8f6ea"/>
<rect x="84.17" y="332.00" width="6.38" height="6.45" fill="#fbfec6"/>
<path d="M39.83 325.60V338.40M46.17 325.60V338.40M52.50 325.60V338.40M58.83 325.60V338.40M65.17 325.60V338.40M71.50 325.60V338.40M77.83 325.60V338.40M84.17 325.60V338.40M33.50 332.00H90.50M33.50 325.60H90.50V338.40H33.50Z" fill="none" stroke="#9a9a9a" stroke-opacity="0.6" stroke-width="0.55"/>
<rect x="33.50" y="350.20" width="6.38" height="6.15" fill="#fdae61"/>
<rect x="39.83" y="350.20" width="6.38" height="6.15" fill="#fdae61"/>
<rect x="46.17" y="350.20" width="6.38" height="6.15" fill="#fdae61"/>
<rect x="52.50" y="350.20" width="6.38" height="6.15" fill="#fee496"/>
<rect x="58.83" y="350.20" width="6.38" height="6.15" fill="#fee496"/>
<rect x="65.17" y="350.20" width="6.38" height="6.15" fill="#fee496"/>
<rect x="71.50" y="350.20" width="6.38" height="6.15" fill="#fee496"/>
<rect x="77.83" y="350.20" width="6.38" height="6.15" fill="#fee496"/>
<rect x="84.17" y="350.20" width="6.38" height="6.15" fill="#fee496"/>
<path d="M39.83 350.20V356.30M46.17 350.20V356.30M52.50 350.20V356.30M58.83 350.20V356.30M65.17 350.20V356.30M71.50 350.20V356.30M77.83 350.20V356.30M84.17 350.20V356.30M33.50 350.20H90.50V356.30H33.50Z" fill="none" stroke="#9a9a9a" stroke-opacity="0.6" stroke-width="0.55"/>
<rect x="234.50" y="273.30" width="6.34" height="6.28" fill="#f7854e"/>
<rect x="240.79" y="273.30" width="6.34" height="6.28" fill="#f7854e"/>
<rect x="247.08" y="273.30" width="6.34" height="6.28" fill="#f7854e"/>
<rect x="253.37" y="273.30" width="6.34" height="6.28" fill="#fdc173"/>
<rect x="259.66" y="273.30" width="6.34" height="6.28" fill="#fdc173"/>
<rect x="265.94" y="273.30" width="6.34" height="6.28" fill="#fdc173"/>
<rect x="272.23" y="273.30" width="6.34" height="6.28" fill="#fed484"/>
<rect x="278.52" y="273.30" width="6.34" height="6.28" fill="#fed484"/>
<rect x="284.81" y="273.30" width="6.34" height="6.28" fill="#fed484"/>
<rect x="234.50" y="279.53" width="6.34" height="6.28" fill="#fdba6d"/>
<rect x="240.79" y="279.53" width="6.34" height="6.28" fill="#fdba6d"/>
<rect x="247.08" y="279.53" width="6.34" height="6.28" fill="#fdba6d"/>
<rect x="253.37" y="279.53" width="6.34" height="6.28" fill="#fffbb9"/>
<rect x="259.66" y="279.53" width="6.34" height="6.28" fill="#fffbb9"/>
<rect x="265.94" y="279.53" width="6.34" height="6.28" fill="#fffbb9"/>
<rect x="272.23" y="279.53" width="6.34" height="6.28" fill="#fee89c"/>
<rect x="278.52" y="279.53" width="6.34" height="6.28" fill="#fee89c"/>
<rect x="284.81" y="279.53" width="6.34" height="6.28" fill="#fee89c"/>
<rect x="234.50" y="285.77" width="6.34" height="6.28" fill="#fef0a8"/>
<rect x="240.79" y="285.77" width="6.34" height="6.28" fill="#fef0a8"/>
<rect x="247.08" y="285.77" width="6.34" height="6.28" fill="#fef0a8"/>
<rect x="253.37" y="285.77" width="6.34" height="6.28" fill="#e4f4f1"/>
<rect x="259.66" y="285.77" width="6.34" height="6.28" fill="#e4f4f1"/>
<rect x="265.94" y="285.77" width="6.34" height="6.28" fill="#f0f9dc"/>
<rect x="272.23" y="285.77" width="6.34" height="6.28" fill="#f6fbd0"/>
<rect x="278.52" y="285.77" width="6.34" height="6.28" fill="#f6fbd0"/>
<rect x="284.81" y="285.77" width="6.34" height="6.28" fill="#f6fbd0"/>
<path d="M240.79 273.30V292.00M247.08 273.30V292.00M253.37 273.30V292.00M259.66 273.30V292.00M265.94 273.30V292.00M272.23 273.30V292.00M278.52 273.30V292.00M284.81 273.30V292.00M234.50 279.53H291.10M234.50 285.77H291.10M234.50 273.30H291.10V292.00H234.50Z" fill="none" stroke="#9a9a9a" stroke-opacity="0.6" stroke-width="0.55"/>
<rect x="311.50" y="329.80" width="6.38" height="6.15" fill="#e8f6ea"/>
<rect x="317.83" y="329.80" width="6.38" height="6.15" fill="#e8f6ea"/>
<rect x="324.17" y="329.80" width="6.38" height="6.15" fill="#f1fad9"/>
<rect x="330.50" y="329.80" width="6.38" height="6.15" fill="#abd9e9"/>
<rect x="336.83" y="329.80" width="6.38" height="6.15" fill="#abd9e9"/>
<rect x="343.17" y="329.80" width="6.38" height="6.15" fill="#abd9e9"/>
<rect x="349.50" y="329.80" width="6.38" height="6.15" fill="#abd9e9"/>
<rect x="355.83" y="329.80" width="6.38" height="6.15" fill="#b8e0ed"/>
<rect x="362.17" y="329.80" width="6.38" height="6.15" fill="#abd9e9"/>
<path d="M317.83 329.80V335.90M324.17 329.80V335.90M330.50 329.80V335.90M336.83 329.80V335.90M343.17 329.80V335.90M349.50 329.80V335.90M355.83 329.80V335.90M362.17 329.80V335.90M311.50 329.80H368.50V335.90H311.50Z" fill="none" stroke="#9a9a9a" stroke-opacity="0.6" stroke-width="0.55"/>
<rect x="106.10" y="392.50" width="6.28" height="6.35" fill="#feda8a"/>
<rect x="112.33" y="392.50" width="6.28" height="6.35" fill="#feda8a"/>
<rect x="118.57" y="392.50" width="6.28" height="6.35" fill="#feda8a"/>
<rect x="124.80" y="392.50" width="6.28" height="6.35" fill="#f0f9dc"/>
<rect x="131.03" y="392.50" width="6.28" height="6.35" fill="#f0f9dc"/>
<rect x="137.27" y="392.50" width="6.28" height="6.35" fill="#e9f7e7"/>
<rect x="143.50" y="392.50" width="6.28" height="6.35" fill="#fff9b6"/>
<rect x="149.73" y="392.50" width="6.28" height="6.35" fill="#fff9b6"/>
<rect x="155.97" y="392.50" width="6.28" height="6.35" fill="#fff9b6"/>
<path d="M112.33 392.50V398.80M118.57 392.50V398.80M124.80 392.50V398.80M131.03 392.50V398.80M137.27 392.50V398.80M143.50 392.50V398.80M149.73 392.50V398.80M155.97 392.50V398.80M106.10 392.50H162.20V398.80H106.10Z" fill="none" stroke="#9a9a9a" stroke-opacity="0.6" stroke-width="0.55"/>
<rect x="106.10" y="408.60" width="6.32" height="6.35" fill="#feca7b"/>
<rect x="112.37" y="408.60" width="6.32" height="6.35" fill="#feca7b"/>
<rect x="118.63" y="408.60" width="6.32" height="6.35" fill="#feca7b"/>
<rect x="124.90" y="408.60" width="6.32" height="6.35" fill="#f6fbd0"/>
<rect x="131.17" y="408.60" width="6.32" height="6.35" fill="#f6fbd0"/>
<rect x="137.43" y="408.60" width="6.32" height="6.35" fill="#f6fbd0"/>
<rect x="143.70" y="408.60" width="6.32" height="6.35" fill="#fee89c"/>
<rect x="149.97" y="408.60" width="6.32" height="6.35" fill="#fee89c"/>
<rect x="156.23" y="408.60" width="6.32" height="6.35" fill="#fee89c"/>
<rect x="106.10" y="414.90" width="6.32" height="6.35" fill="#fed484"/>
<rect x="112.37" y="414.90" width="6.32" height="6.35" fill="#fed484"/>
<rect x="118.63" y="414.90" width="6.32" height="6.35" fill="#fed484"/>
<rect x="124.90" y="414.90" width="6.32" height="6.35" fill="#eef8de"/>
<rect x="131.17" y="414.90" width="6.32" height="6.35" fill="#eef8de"/>
<rect x="137.43" y="414.90" width="6.32" height="6.35" fill="#eef8de"/>
<rect x="143.70" y="414.90" width="6.32" height="6.35" fill="#fff1aa"/>
<rect x="149.97" y="414.90" width="6.32" height="6.35" fill="#fff1aa"/>
<rect x="156.23" y="414.90" width="6.32" height="6.35" fill="#fff1aa"/>
<path d="M112.37 408.60V421.20M118.63 408.60V421.20M124.90 408.60V421.20M131.17 408.60V421.20M137.43 408.60V421.20M143.70 408.60V421.20M149.97 408.60V421.20M156.23 408.60V421.20M106.10 414.90H162.50M106.10 408.60H162.50V421.20H106.10Z" fill="none" stroke="#9a9a9a" stroke-opacity="0.6" stroke-width="0.55"/>
<rect x="188.50" y="392.30" width="6.34" height="6.55" fill="#fff3ad"/>
<rect x="194.79" y="392.30" width="6.34" height="6.55" fill="#fff3ad"/>
<rect x="201.08" y="392.30" width="6.34" height="6.55" fill="#fff3ad"/>
<rect x="207.37" y="392.30" width="6.34" height="6.55" fill="#e0f3f8"/>
<rect x="213.66" y="392.30" width="6.34" height="6.55" fill="#e0f3f8"/>
<rect x="219.94" y="392.30" width="6.34" height="6.55" fill="#e0f3f8"/>
<rect x="226.23" y="392.30" width="6.34" height="6.55" fill="#e0f3f8"/>
<rect x="232.52" y="392.30" width="6.34" height="6.55" fill="#e0f3f8"/>
<rect x="238.81" y="392.30" width="6.34" height="6.55" fill="#bfe3ef"/>
<path d="M194.79 392.30V398.80M201.08 392.30V398.80M207.37 392.30V398.80M213.66 392.30V398.80M219.94 392.30V398.80M226.23 392.30V398.80M232.52 392.30V398.80M238.81 392.30V398.80M188.50 392.30H245.10V398.80H188.50Z" fill="none" stroke="#9a9a9a" stroke-opacity="0.6" stroke-width="0.55"/>
<rect x="290.10" y="392.30" width="6.35" height="6.45" fill="#e8f6ea"/>
<rect x="296.40" y="392.30" width="6.35" height="6.45" fill="#e8f6ea"/>
<rect x="302.70" y="392.30" width="6.35" height="6.45" fill="#f1fad9"/>
<rect x="309.00" y="392.30" width="6.35" height="6.45" fill="#abd9e9"/>
<rect x="315.30" y="392.30" width="6.35" height="6.45" fill="#abd9e9"/>
<rect x="321.60" y="392.30" width="6.35" height="6.45" fill="#abd9e9"/>
<rect x="327.90" y="392.30" width="6.35" height="6.45" fill="#abd9e9"/>
<rect x="334.20" y="392.30" width="6.35" height="6.45" fill="#b8e0ed"/>
<rect x="340.50" y="392.30" width="6.35" height="6.45" fill="#abd9e9"/>
<path d="M296.40 392.30V398.70M302.70 392.30V398.70M309.00 392.30V398.70M315.30 392.30V398.70M321.60 392.30V398.70M327.90 392.30V398.70M334.20 392.30V398.70M340.50 392.30V398.70M290.10 392.30H346.80V398.70H290.10Z" fill="none" stroke="#9a9a9a" stroke-opacity="0.6" stroke-width="0.55"/>
<rect x="376.60" y="392.30" width="6.39" height="6.45" fill="#e8f6ea"/>
<rect x="382.94" y="392.30" width="6.39" height="6.45" fill="#e8f6ea"/>
<rect x="389.29" y="392.30" width="6.39" height="6.45" fill="#f1fad9"/>
<rect x="395.63" y="392.30" width="6.39" height="6.45" fill="#abd9e9"/>
<rect x="401.98" y="392.30" width="6.39" height="6.45" fill="#abd9e9"/>
<rect x="408.32" y="392.30" width="6.39" height="6.45" fill="#abd9e9"/>
<rect x="414.67" y="392.30" width="6.39" height="6.45" fill="#abd9e9"/>
<rect x="421.01" y="392.30" width="6.39" height="6.45" fill="#b8e0ed"/>
<rect x="427.36" y="392.30" width="6.39" height="6.45" fill="#abd9e9"/>
<path d="M382.94 392.30V398.70M389.29 392.30V398.70M395.63 392.30V398.70M401.98 392.30V398.70M408.32 392.30V398.70M414.67 392.30V398.70M421.01 392.30V398.70M427.36 392.30V398.70M376.60 392.30H433.70V398.70H376.60Z" fill="none" stroke="#9a9a9a" stroke-opacity="0.6" stroke-width="0.55"/>
<path d="M142.3 61.0 L214.6 61.0" fill="none" stroke="#1a1a1a" stroke-width="1.85" stroke-linejoin="miter"/>
<path d="M206.5 56.4 L214.9 61.0 L206.5 65.6" fill="none" stroke="#1a1a1a" stroke-width="1.85" stroke-linejoin="miter" stroke-miterlimit="10"/>
<path d="M142.3 61.0 L142.3 61.0" fill="none" stroke="#1a1a1a" stroke-width="1.85" stroke-linejoin="miter"/>
<path d="M255.2 60.6 L325.8 60.6" fill="none" stroke="#1a1a1a" stroke-width="1.85" stroke-linejoin="miter"/>
<path d="M317.7 56.0 L326.1 60.6 L317.7 65.2" fill="none" stroke="#1a1a1a" stroke-width="1.85" stroke-linejoin="miter" stroke-miterlimit="10"/>
<path d="M294.0 60.6 L294.0 112.1" fill="none" stroke="#1a1a1a" stroke-width="1.85" stroke-linejoin="miter"/>
<path d="M383.6 61.0 L428.6 61.0" fill="none" stroke="#1a1a1a" stroke-width="1.85" stroke-linejoin="miter"/>
<path d="M391.7 56.4 L383.3 61.0 L391.7 65.6" fill="none" stroke="#1a1a1a" stroke-width="1.85" stroke-linejoin="miter" stroke-miterlimit="10"/>
<path d="M420.5 56.4 L428.9 61.0 L420.5 65.6" fill="none" stroke="#1a1a1a" stroke-width="1.85" stroke-linejoin="miter" stroke-miterlimit="10"/>
<path d="M406.2 61.0 L406.2 111.7" fill="none" stroke="#1a1a1a" stroke-width="1.85" stroke-linejoin="miter"/>
<path d="M401.6 103.6 L406.2 112.0 L410.8 103.6" fill="none" stroke="#1a1a1a" stroke-width="1.85" stroke-linejoin="miter" stroke-miterlimit="10"/>
<path d="M320.3 120.5 L371.8 120.5" fill="none" stroke="#1a1a1a" stroke-width="1.85" stroke-linejoin="miter"/>
<path d="M328.4 115.9 L320.0 120.5 L328.4 125.1" fill="none" stroke="#1a1a1a" stroke-width="1.85" stroke-linejoin="miter" stroke-miterlimit="10"/>
<path d="M363.7 115.9 L372.1 120.5 L363.7 125.1" fill="none" stroke="#1a1a1a" stroke-width="1.85" stroke-linejoin="miter" stroke-miterlimit="10"/>
<path d="M118.6 70.3 L118.6 168.8" fill="none" stroke="#1a1a1a" stroke-width="1.85" stroke-linejoin="miter"/>
<path d="M114.0 160.7 L118.6 169.1 L123.2 160.7" fill="none" stroke="#1a1a1a" stroke-width="1.85" stroke-linejoin="miter" stroke-miterlimit="10"/>
<path d="M84.2 92.2 L84.2 169.2" fill="none" stroke="#1a1a1a" stroke-width="1.85" stroke-linejoin="miter"/>
<path d="M79.6 100.3 L84.2 91.9 L88.8 100.3" fill="none" stroke="#1a1a1a" stroke-width="1.85" stroke-linejoin="miter" stroke-miterlimit="10"/>
<path d="M127.4 181.3 L177.2 181.3" fill="none" stroke="#1a1a1a" stroke-width="1.85" stroke-linejoin="miter"/>
<path d="M135.5 176.7 L127.1 181.3 L135.5 185.9" fill="none" stroke="#1a1a1a" stroke-width="1.85" stroke-linejoin="miter" stroke-miterlimit="10"/>
<path d="M169.1 176.7 L177.5 181.3 L169.1 185.9" fill="none" stroke="#1a1a1a" stroke-width="1.85" stroke-linejoin="miter" stroke-miterlimit="10"/>
<path d="M218.6 181.3 L270.6 181.3" fill="none" stroke="#1a1a1a" stroke-width="1.85" stroke-linejoin="miter"/>
<path d="M226.7 176.7 L218.3 181.3 L226.7 185.9" fill="none" stroke="#1a1a1a" stroke-width="1.85" stroke-linejoin="miter" stroke-miterlimit="10"/>
<path d="M262.5 176.7 L270.9 181.3 L262.5 185.9" fill="none" stroke="#1a1a1a" stroke-width="1.85" stroke-linejoin="miter" stroke-miterlimit="10"/>
<path d="M324.1 181.5 L376.1 181.5" fill="none" stroke="#1a1a1a" stroke-width="1.85" stroke-linejoin="miter"/>
<path d="M332.2 176.9 L323.8 181.5 L332.2 186.1" fill="none" stroke="#1a1a1a" stroke-width="1.85" stroke-linejoin="miter" stroke-miterlimit="10"/>
<path d="M368.0 176.9 L376.4 181.5 L368.0 186.1" fill="none" stroke="#1a1a1a" stroke-width="1.85" stroke-linejoin="miter" stroke-miterlimit="10"/>
<path d="M415.0 180.3 L460.7 180.3 L460.7 362.0" fill="none" stroke="#1a1a1a" stroke-width="1.85" stroke-linejoin="miter"/>
<path d="M422.9 175.7 L414.5 180.3 L422.9 184.9" fill="none" stroke="#1a1a1a" stroke-width="1.85" stroke-linejoin="miter" stroke-miterlimit="10"/>
<path d="M456.8 361.5 L464.6 361.5 L460.7 368.3 Z" fill="#1a1a1a"/>
<path d="M433.9 196.1 L433.9 253.2" fill="none" stroke="#1a1a1a" stroke-width="1.85" stroke-linejoin="miter"/>
<path d="M429.3 204.2 L433.9 195.8 L438.5 204.2" fill="none" stroke="#1a1a1a" stroke-width="1.85" stroke-linejoin="miter" stroke-miterlimit="10"/>
<path d="M429.3 245.1 L433.9 253.5 L438.5 245.1" fill="none" stroke="#1a1a1a" stroke-width="1.85" stroke-linejoin="miter" stroke-miterlimit="10"/>
<path d="M435.5 275.8 L435.5 366.3" fill="none" stroke="#1a1a1a" stroke-width="1.85" stroke-linejoin="miter"/>
<path d="M430.9 283.9 L435.5 275.5 L440.1 283.9" fill="none" stroke="#1a1a1a" stroke-width="1.85" stroke-linejoin="miter" stroke-miterlimit="10"/>
<path d="M430.9 358.2 L435.5 366.6 L440.1 358.2" fill="none" stroke="#1a1a1a" stroke-width="1.85" stroke-linejoin="miter" stroke-miterlimit="10"/>
<path d="M396.5 375.2 L416.3 375.2" fill="none" stroke="#1a1a1a" stroke-width="1.85" stroke-linejoin="miter"/>
<path d="M404.6 370.6 L396.2 375.2 L404.6 379.8" fill="none" stroke="#1a1a1a" stroke-width="1.85" stroke-linejoin="miter" stroke-miterlimit="10"/>
<path d="M304.9 374.6 L330.0 374.6" fill="none" stroke="#1a1a1a" stroke-width="1.85" stroke-linejoin="miter"/>
<path d="M313.0 370.0 L304.6 374.6 L313.0 379.2" fill="none" stroke="#1a1a1a" stroke-width="1.85" stroke-linejoin="miter" stroke-miterlimit="10"/>
<path d="M321.9 370.0 L330.3 374.6 L321.9 379.2" fill="none" stroke="#1a1a1a" stroke-width="1.85" stroke-linejoin="miter" stroke-miterlimit="10"/>
<path d="M300.2 312.4 L300.2 372.9" fill="none" stroke="#1a1a1a" stroke-width="1.85" stroke-linejoin="miter"/>
<path d="M295.6 364.8 L300.2 373.2 L304.8 364.8" fill="none" stroke="#1a1a1a" stroke-width="1.85" stroke-linejoin="miter" stroke-miterlimit="10"/>
<path d="M207.4 374.6 L232.3 374.6" fill="none" stroke="#1a1a1a" stroke-width="1.85" stroke-linejoin="miter"/>
<path d="M215.5 370.0 L207.1 374.6 L215.5 379.2" fill="none" stroke="#1a1a1a" stroke-width="1.85" stroke-linejoin="miter" stroke-miterlimit="10"/>
<path d="M224.2 370.0 L232.6 374.6 L224.2 379.2" fill="none" stroke="#1a1a1a" stroke-width="1.85" stroke-linejoin="miter" stroke-miterlimit="10"/>
<path d="M220.3 314.5 L220.3 374.6" fill="none" stroke="#1a1a1a" stroke-width="1.85" stroke-linejoin="miter"/>
<path d="M215.7 322.6 L220.3 314.2 L224.9 322.6" fill="none" stroke="#1a1a1a" stroke-width="1.85" stroke-linejoin="miter" stroke-miterlimit="10"/>
<path d="M242.1 304.6 L283.3 304.6" fill="none" stroke="#1a1a1a" stroke-width="1.85" stroke-linejoin="miter"/>
<path d="M250.2 300.0 L241.8 304.6 L250.2 309.2" fill="none" stroke="#1a1a1a" stroke-width="1.85" stroke-linejoin="miter" stroke-miterlimit="10"/>
<path d="M275.2 300.0 L283.6 304.6 L275.2 309.2" fill="none" stroke="#1a1a1a" stroke-width="1.85" stroke-linejoin="miter" stroke-miterlimit="10"/>
<path d="M123.2 375.3 L148.4 375.3" fill="none" stroke="#1a1a1a" stroke-width="1.85" stroke-linejoin="miter"/>
<path d="M131.3 370.7 L122.9 375.3 L131.3 379.9" fill="none" stroke="#1a1a1a" stroke-width="1.85" stroke-linejoin="miter" stroke-miterlimit="10"/>
<path d="M140.3 370.7 L148.7 375.3 L140.3 379.9" fill="none" stroke="#1a1a1a" stroke-width="1.85" stroke-linejoin="miter" stroke-miterlimit="10"/>
<path d="M94.2 194.6 L94.2 250.0" fill="none" stroke="#1a1a1a" stroke-width="1.85" stroke-linejoin="miter"/>
<path d="M89.6 202.7 L94.2 194.3 L98.8 202.7" fill="none" stroke="#1a1a1a" stroke-width="1.85" stroke-linejoin="miter" stroke-miterlimit="10"/>
<path d="M89.6 241.9 L94.2 250.3 L98.8 241.9" fill="none" stroke="#1a1a1a" stroke-width="1.85" stroke-linejoin="miter" stroke-miterlimit="10"/>
<path d="M105.9 194.6 L105.9 251.9" fill="none" stroke="#1a1a1a" stroke-width="1.85" stroke-linejoin="miter"/>
<path d="M101.3 202.7 L105.9 194.3 L110.5 202.7" fill="none" stroke="#1a1a1a" stroke-width="1.85" stroke-linejoin="miter" stroke-miterlimit="10"/>
<path d="M100.3 271.2 L100.3 304.2" fill="none" stroke="#1a1a1a" stroke-width="1.85" stroke-linejoin="miter"/>
<path d="M95.7 279.3 L100.3 270.9 L104.9 279.3" fill="none" stroke="#1a1a1a" stroke-width="1.85" stroke-linejoin="miter" stroke-miterlimit="10"/>
<path d="M95.7 296.1 L100.3 304.5 L104.9 296.1" fill="none" stroke="#1a1a1a" stroke-width="1.85" stroke-linejoin="miter" stroke-miterlimit="10"/>
<path d="M100.3 322.7 L100.3 366.0" fill="none" stroke="#1a1a1a" stroke-width="1.85" stroke-linejoin="miter"/>
<path d="M95.7 330.8 L100.3 322.4 L104.9 330.8" fill="none" stroke="#1a1a1a" stroke-width="1.85" stroke-linejoin="miter" stroke-miterlimit="10"/>
<path d="M95.7 357.9 L100.3 366.3 L104.9 357.9" fill="none" stroke="#1a1a1a" stroke-width="1.85" stroke-linejoin="miter" stroke-miterlimit="10"/>
<text x="40.0" y="86.5" font-size="8.7" fill="#1a1a1a" font-weight="normal" font-family="'Liberation Serif', 'Times New Roman', serif" textLength="75.1" lengthAdjust="spacingAndGlyphs" stroke="#1a1a1a" stroke-width="0.18">Phosphoenol-pyruvate</text>
<text x="96.4" y="64.2" font-size="8.7" fill="#1eae66" font-weight="normal" font-family="'Liberation Serif', 'Times New Roman', serif" textLength="41.6" lengthAdjust="spacingAndGlyphs" stroke="#1eae66" stroke-width="0.18">Pyruvic acid</text>
<text x="216.7" y="57.2" font-size="8.7" fill="#1a1a1a" font-weight="normal" font-family="'Liberation Serif', 'Times New Roman', serif" textLength="35.8" lengthAdjust="spacingAndGlyphs" stroke="#1a1a1a" stroke-width="0.18">2-Hydroxy</text>
<text x="216.7" y="70.0" font-size="8.7" fill="#1a1a1a" font-weight="normal" font-family="'Liberation Serif', 'Times New Roman', serif" textLength="38.2" lengthAdjust="spacingAndGlyphs" stroke="#1a1a1a" stroke-width="0.18">ethyl-ThPP</text>
<text x="327.9" y="57.6" font-size="8.7" fill="#1a1a1a" font-weight="normal" font-family="'Liberation Serif', 'Times New Roman', serif" textLength="55.8" lengthAdjust="spacingAndGlyphs" stroke="#1a1a1a" stroke-width="0.18">S-Acetyldihydro</text>
<text x="327.9" y="69.1" font-size="8.7" fill="#1a1a1a" font-weight="normal" font-family="'Liberation Serif', 'Times New Roman', serif" textLength="51.5" lengthAdjust="spacingAndGlyphs" stroke="#1a1a1a" stroke-width="0.18">T--lipoamide-E</text>
<text x="432.5" y="63.6" font-size="8.7" fill="#1a1a1a" font-weight="normal" font-family="'Liberation Serif', 'Times New Roman', serif" textLength="40.3" lengthAdjust="spacingAndGlyphs" stroke="#1a1a1a" stroke-width="0.18">Acetyl-CoA</text>
<text x="273.2" y="123.4" font-size="8.7" fill="#1a1a1a" font-weight="normal" font-family="'Liberation Serif', 'Times New Roman', serif" textLength="44.0" lengthAdjust="spacingAndGlyphs" stroke="#1a1a1a" stroke-width="0.18">Lipoamide-E</text>
<text x="377.7" y="122.8" font-size="8.7" fill="#1a1a1a" font-weight="normal" font-family="'Liberation Serif', 'Times New Roman', serif" textLength="71.6" lengthAdjust="spacingAndGlyphs" stroke="#1a1a1a" stroke-width="0.18">Dihydro-lipoamide-E</text>
<text x="77.3" y="183.2" font-size="8.7" fill="#1a1a1a" font-weight="normal" font-family="'Liberation Serif', 'Times New Roman', serif" textLength="43.4" lengthAdjust="spacingAndGlyphs" stroke="#1a1a1a" stroke-width="0.18">Oxaloacetate</text>
<text x="180.6" y="184.0" font-size="8.7" fill="#1eae66" font-weight="normal" font-family="'Liberation Serif', 'Times New Roman', serif" textLength="35.5" lengthAdjust="spacingAndGlyphs" stroke="#1eae66" stroke-width="0.18">Citric acid</text>
<text x="274.0" y="183.8" font-size="8.7" fill="#1a1a1a" font-weight="normal" font-family="'Liberation Serif', 'Times New Roman', serif" textLength="46.2" lengthAdjust="spacingAndGlyphs" stroke="#1a1a1a" stroke-width="0.18">Cis-Aconitate</text>
<text x="380.6" y="183.2" font-size="8.7" fill="#1a1a1a" font-weight="normal" font-family="'Liberation Serif', 'Times New Roman', serif" textLength="30.8" lengthAdjust="spacingAndGlyphs" stroke="#1a1a1a" stroke-width="0.18">Isocitrate</text>
<text x="403.8" y="268.1" font-size="8.7" fill="#1a1a1a" font-weight="normal" font-family="'Liberation Serif', 'Times New Roman', serif" textLength="51.6" lengthAdjust="spacingAndGlyphs" stroke="#1a1a1a" stroke-width="0.18">Oxalosuccinate</text>
<text x="84.6" y="263.2" font-size="8.7" fill="#1eae66" font-weight="normal" font-family="'Liberation Serif', 'Times New Roman', serif" textLength="30.3" lengthAdjust="spacingAndGlyphs" stroke="#1eae66" stroke-width="0.18">S-Malate</text>
<text x="84.6" y="315.9" font-size="8.7" fill="#1a1a1a" font-weight="normal" font-family="'Liberation Serif', 'Times New Roman', serif" textLength="29.9" lengthAdjust="spacingAndGlyphs" stroke="#1a1a1a" stroke-width="0.18">fumarate</text>
<text x="73.5" y="377.7" font-size="8.7" fill="#1eae66" font-weight="normal" font-family="'Liberation Serif', 'Times New Roman', serif" textLength="44.4" lengthAdjust="spacingAndGlyphs" stroke="#1eae66" stroke-width="0.18">Succinic acid</text>
<text x="154.0" y="377.9" font-size="8.7" fill="#1a1a1a" font-weight="normal" font-family="'Liberation Serif', 'Times New Roman', serif" textLength="48.4" lengthAdjust="spacingAndGlyphs" stroke="#1a1a1a" stroke-width="0.18">Succinyl-CoA</text>
<text x="167.2" y="307.2" font-size="8.7" fill="#1a1a1a" font-weight="normal" font-family="'Liberation Serif', 'Times New Roman', serif" textLength="72.0" lengthAdjust="spacingAndGlyphs" stroke="#1a1a1a" stroke-width="0.18">Dihydro-lipoamide-E</text>
<text x="286.7" y="307.8" font-size="8.7" fill="#1a1a1a" font-weight="normal" font-family="'Liberation Serif', 'Times New Roman', serif" textLength="43.6" lengthAdjust="spacingAndGlyphs" stroke="#1a1a1a" stroke-width="0.18">Lipoamide-E</text>
<text x="239.2" y="371.2" font-size="8.7" fill="#1a1a1a" font-weight="normal" font-family="'Liberation Serif', 'Times New Roman', serif" textLength="51.5" lengthAdjust="spacingAndGlyphs" stroke="#1a1a1a" stroke-width="0.18">S-Succinyldihy</text>
<text x="239.2" y="383.4" font-size="8.7" fill="#1a1a1a" font-weight="normal" font-family="'Liberation Serif', 'Times New Roman', serif" textLength="52.9" lengthAdjust="spacingAndGlyphs" stroke="#1a1a1a" stroke-width="0.18">drolipoamide-E</text>
<text x="331.9" y="371.2" font-size="8.7" fill="#1a1a1a" font-weight="normal" font-family="'Liberation Serif', 'Times New Roman', serif" textLength="60.5" lengthAdjust="spacingAndGlyphs" stroke="#1a1a1a" stroke-width="0.18">3-Carboxy-1-hydr</text>
<text x="331.9" y="383.4" font-size="8.7" fill="#1a1a1a" font-weight="normal" font-family="'Liberation Serif', 'Times New Roman', serif" textLength="56.1" lengthAdjust="spacingAndGlyphs" stroke="#1a1a1a" stroke-width="0.18">oxypropyl-ThPP</text>
<text x="419.6" y="377.1" font-size="8.7" fill="#1eae66" font-weight="normal" font-family="'Liberation Serif', 'Times New Roman', serif" textLength="56.1" lengthAdjust="spacingAndGlyphs" stroke="#1eae66" stroke-width="0.18">Oxoglutaric acid</text>
<text x="162.7" y="31.7" font-size="8.5" fill="#cc0e1c" font-weight="bold" font-family="'Liberation Serif', 'Times New Roman', serif" textLength="34.0" lengthAdjust="spacingAndGlyphs" stroke="#cc0e1c" stroke-width="0.35">PDH-E1α</text>
<text x="162.2" y="56.9" font-size="8.5" fill="#cc0e1c" font-weight="bold" font-family="'Liberation Serif', 'Times New Roman', serif" textLength="33.6" lengthAdjust="spacingAndGlyphs" stroke="#cc0e1c" stroke-width="0.35">PDH-E1β</text>
<text x="280.3" y="30.8" font-size="8.5" fill="#cc0e1c" font-weight="bold" font-family="'Liberation Serif', 'Times New Roman', serif" textLength="29.1" lengthAdjust="spacingAndGlyphs" stroke="#cc0e1c" stroke-width="0.35">PDH-E1</text>
<text x="280.0" y="56.2" font-size="8.5" fill="#cc0e1c" font-weight="bold" font-family="'Liberation Serif', 'Times New Roman', serif" textLength="35.0" lengthAdjust="spacingAndGlyphs" stroke="#cc0e1c" stroke-width="0.35">PDH-E1β</text>
<text x="397.4" y="57.6" font-size="8.5" fill="#cc0e1c" font-weight="bold" font-family="'Liberation Serif', 'Times New Roman', serif" textLength="16.4" lengthAdjust="spacingAndGlyphs" stroke="#cc0e1c" stroke-width="0.35">DLA</text>
<text x="339.3" y="117.4" font-size="8.5" fill="#cc0e1c" font-weight="bold" font-family="'Liberation Serif', 'Times New Roman', serif" textLength="16.8" lengthAdjust="spacingAndGlyphs" stroke="#cc0e1c" stroke-width="0.35">DLD</text>
<text x="39.7" y="130.6" font-size="8.5" fill="#cc0e1c" font-weight="bold" font-family="'Liberation Serif', 'Times New Roman', serif" textLength="22.3" lengthAdjust="spacingAndGlyphs" stroke="#cc0e1c" stroke-width="0.35">PCKA</text>
<text x="143.1" y="178.0" font-size="8.5" fill="#cc0e1c" font-weight="bold" font-family="'Liberation Serif', 'Times New Roman', serif" textLength="22.6" lengthAdjust="spacingAndGlyphs" stroke="#cc0e1c" stroke-width="0.35">ACLY</text>
<text x="237.9" y="178.0" font-size="8.5" fill="#cc0e1c" font-weight="bold" font-family="'Liberation Serif', 'Times New Roman', serif" textLength="18.4" lengthAdjust="spacingAndGlyphs" stroke="#cc0e1c" stroke-width="0.35">ACO</text>
<text x="341.2" y="178.0" font-size="8.5" fill="#cc0e1c" font-weight="bold" font-family="'Liberation Serif', 'Times New Roman', serif" textLength="18.5" lengthAdjust="spacingAndGlyphs" stroke="#cc0e1c" stroke-width="0.35">ACO</text>
<text x="387.4" y="242.0" font-size="8.5" fill="#cc0e1c" font-weight="bold" font-family="'Liberation Serif', 'Times New Roman', serif" textLength="18.8" lengthAdjust="spacingAndGlyphs" stroke="#cc0e1c" stroke-width="0.35">IDH1</text>
<text x="484.1" y="283.8" font-size="8.5" fill="#cc0e1c" font-weight="bold" font-family="'Liberation Serif', 'Times New Roman', serif" textLength="18.8" lengthAdjust="spacingAndGlyphs" stroke="#cc0e1c" stroke-width="0.35">IDH3</text>
<text x="388.6" y="332.0" font-size="8.5" fill="#cc0e1c" font-weight="bold" font-family="'Liberation Serif', 'Times New Roman', serif" textLength="18.5" lengthAdjust="spacingAndGlyphs" stroke="#cc0e1c" stroke-width="0.35">IDH1</text>
<text x="55.4" y="244.3" font-size="8.5" fill="#cc0e1c" font-weight="bold" font-family="'Liberation Serif', 'Times New Roman', serif" textLength="19.4" lengthAdjust="spacingAndGlyphs" stroke="#cc0e1c" stroke-width="0.35">MDH</text>
<text x="57.8" y="295.9" font-size="8.5" fill="#cc0e1c" font-weight="bold" font-family="'Liberation Serif', 'Times New Roman', serif" textLength="10.9" lengthAdjust="spacingAndGlyphs" stroke="#cc0e1c" stroke-width="0.35">FH</text>
<text x="53.1" y="347.4" font-size="8.5" fill="#cc0e1c" font-weight="bold" font-family="'Liberation Serif', 'Times New Roman', serif" textLength="22.3" lengthAdjust="spacingAndGlyphs" stroke="#cc0e1c" stroke-width="0.35">SDHB</text>
<text x="53.1" y="366.1" font-size="8.5" fill="#cc0e1c" font-weight="bold" font-family="'Liberation Serif', 'Times New Roman', serif" textLength="22.6" lengthAdjust="spacingAndGlyphs" stroke="#cc0e1c" stroke-width="0.35">SDHA</text>
<text x="255.6" y="301.2" font-size="8.5" fill="#cc0e1c" font-weight="bold" font-family="'Liberation Serif', 'Times New Roman', serif" textLength="16.9" lengthAdjust="spacingAndGlyphs" stroke="#cc0e1c" stroke-width="0.35">DLD</text>
<text x="326.7" y="343.8" font-size="8.5" fill="#cc0e1c" font-weight="bold" font-family="'Liberation Serif', 'Times New Roman', serif" textLength="25.2" lengthAdjust="spacingAndGlyphs" stroke="#cc0e1c" stroke-width="0.35">OGDH</text>
<text x="126.1" y="388.3" font-size="8.5" fill="#cc0e1c" font-weight="bold" font-family="'Liberation Serif', 'Times New Roman', serif" textLength="19.1" lengthAdjust="spacingAndGlyphs" stroke="#cc0e1c" stroke-width="0.35">LSC1</text>
<text x="126.1" y="405.5" font-size="8.5" fill="#cc0e1c" font-weight="bold" font-family="'Liberation Serif', 'Times New Roman', serif" textLength="19.1" lengthAdjust="spacingAndGlyphs" stroke="#cc0e1c" stroke-width="0.35">LSC2</text>
<text x="208.9" y="388.5" font-size="8.5" fill="#cc0e1c" font-weight="bold" font-family="'Liberation Serif', 'Times New Roman', serif" textLength="20.9" lengthAdjust="spacingAndGlyphs" stroke="#cc0e1c" stroke-width="0.35">DLST</text>
<text x="305.0" y="388.8" font-size="8.5" fill="#cc0e1c" font-weight="bold" font-family="'Liberation Serif', 'Times New Roman', serif" textLength="25.0" lengthAdjust="spacingAndGlyphs" stroke="#cc0e1c" stroke-width="0.35">OGDH</text>
<text x="394.9" y="388.8" font-size="8.5" fill="#cc0e1c" font-weight="bold" font-family="'Liberation Serif', 'Times New Roman', serif" textLength="25.2" lengthAdjust="spacingAndGlyphs" stroke="#cc0e1c" stroke-width="0.35">OGDH</text>
<rect x="508.4" y="327.0" width="4.9" height="77.6" fill="url(#cb)"/>
<text transform="translate(514.8,329.3) scale(0.85,1)" font-size="5.8" fill="#505050" font-family="'Liberation Sans', Arial, sans-serif">3</text>
<text transform="translate(514.8,348.5) scale(0.85,1)" font-size="5.8" fill="#505050" font-family="'Liberation Sans', Arial, sans-serif">2</text>
<text transform="translate(514.8,367.9) scale(0.85,1)" font-size="5.8" fill="#505050" font-family="'Liberation Sans', Arial, sans-serif">1</text>
<text transform="translate(514.8,387.1) scale(0.85,1)" font-size="5.8" fill="#505050" font-family="'Liberation Sans', Arial, sans-serif">0</text>
<text transform="translate(515.1,406.5) scale(0.85,1)" font-size="5.8" fill="#505050" font-family="'Liberation Sans', Arial, sans-serif">-1</text>
<text x="493.0" y="421.7" font-size="8.8" fill="#1a1a1a" stroke="#1a1a1a" stroke-width="0.2" font-family="'Liberation Serif', 'Times New Roman', serif" textLength="12.6" lengthAdjust="spacingAndGlyphs">Log</text>
<text x="506.4" y="422.2" font-size="5.2" fill="#1a1a1a" font-family="'Liberation Serif', 'Times New Roman', serif" textLength="4.8" lengthAdjust="spacingAndGlyphs">10</text>
<text x="513.4" y="421.7" font-size="8.8" fill="#1a1a1a" stroke="#1a1a1a" stroke-width="0.2" font-family="'Liberation Serif', 'Times New Roman', serif" textLength="22.6" lengthAdjust="spacingAndGlyphs">FPKM</text>
<path d="M47.60 460.00V518.70H105.50" fill="none" stroke="#1a1a1a" stroke-width="1.3" stroke-linecap="square"/>
<path d="M47.60 460.10H50.20" stroke="#1a1a1a" stroke-width="1.1"/>
<path d="M47.60 471.70H50.20" stroke="#1a1a1a" stroke-width="1.1"/>
<path d="M47.60 483.50H50.20" stroke="#1a1a1a" stroke-width="1.1"/>
<path d="M47.60 495.30H50.20" stroke="#1a1a1a" stroke-width="1.1"/>
<path d="M47.60 507.10H50.20" stroke="#1a1a1a" stroke-width="1.1"/>
<path d="M47.60 518.70H50.20" stroke="#1a1a1a" stroke-width="1.1"/>
<path d="M67.30 518.70V516.10" stroke="#1a1a1a" stroke-width="1.1"/>
<path d="M87.50 518.70V516.10" stroke="#1a1a1a" stroke-width="1.1"/>
<path d="M105.50 518.70V516.10" stroke="#1a1a1a" stroke-width="1.1"/>
<text transform="translate(36.50,463.43)" font-size="9.8" fill="#5a5a5a" font-family="'Liberation Serif', 'Times New Roman', serif" text-anchor="end">50,000</text>
<text transform="translate(36.50,475.03)" font-size="9.8" fill="#5a5a5a" font-family="'Liberation Serif', 'Times New Roman', serif" text-anchor="end">40,000</text>
<text transform="translate(36.50,486.83)" font-size="9.8" fill="#5a5a5a" font-family="'Liberation Serif', 'Times New Roman', serif" text-anchor="end">30,000</text>
<text transform="translate(36.50,498.63)" font-size="9.8" fill="#5a5a5a" font-family="'Liberation Serif', 'Times New Roman', serif" text-anchor="end">20,000</text>
<text transform="translate(36.50,510.43)" font-size="9.8" fill="#5a5a5a" font-family="'Liberation Serif', 'Times New Roman', serif" text-anchor="end">10,000</text>
<text transform="translate(36.50,522.03)" font-size="9.8" fill="#5a5a5a" font-family="'Liberation Serif', 'Times New Roman', serif" text-anchor="end">0</text>
<rect x="53.90" y="469.30" width="7.00" height="49.40" fill="#1fb04e"/>
<path d="M57.40 463.70V475.10M55.10 463.70H59.70M55.10 475.10H59.70" stroke="#404040" stroke-width="0.9" fill="none"/>
<rect x="74.00" y="506.10" width="6.90" height="12.60" fill="#1fb04e"/>
<path d="M77.45 500.60V511.00M75.15 500.60H79.75M75.15 511.00H79.75" stroke="#404040" stroke-width="0.9" fill="none"/>
<rect x="94.30" y="512.40" width="6.30" height="6.30" fill="#1fb04e"/>
<path d="M97.45 510.40V514.30M95.15 510.40H99.75M95.15 514.30H99.75" stroke="#404040" stroke-width="0.9" fill="none"/>
<text transform="translate(57.40,455.84) scale(0.9,1)" font-size="10.2" fill="#5a5a5a" font-family="'Liberation Serif', 'Times New Roman', serif" text-anchor="middle">a</text>
<text transform="translate(77.50,495.94) scale(0.9,1)" font-size="10.2" fill="#5a5a5a" font-family="'Liberation Serif', 'Times New Roman', serif" text-anchor="middle">b</text>
<text transform="translate(97.50,505.24) scale(0.9,1)" font-size="10.2" fill="#5a5a5a" font-family="'Liberation Serif', 'Times New Roman', serif" text-anchor="middle">b</text>
<text transform="translate(57.40,533.77) scale(0.9,1)" font-size="10.2" fill="#5a5a5a" font-family="'Liberation Serif', 'Times New Roman', serif" text-anchor="middle">L1</text>
<text transform="translate(77.50,533.77) scale(0.9,1)" font-size="10.2" fill="#5a5a5a" font-family="'Liberation Serif', 'Times New Roman', serif" text-anchor="middle">L2</text>
<text transform="translate(97.50,533.77) scale(0.9,1)" font-size="10.2" fill="#5a5a5a" font-family="'Liberation Serif', 'Times New Roman', serif" text-anchor="middle">L3</text>
<text transform="translate(74.40,544.15) scale(0.9,1)" font-size="10.5" fill="#5a5a5a" font-family="'Liberation Serif', 'Times New Roman', serif" text-anchor="middle">Stage</text>
<text transform="translate(13.00,525.00) rotate(-90)" font-size="11.2" fill="#666666" font-family="'Liberation Serif', 'Times New Roman', serif" text-anchor="start" textLength="81.3" lengthAdjust="spacingAndGlyphs">S-Malate (peak area)</text>
<path d="M148.50 456.60V518.40H211.50" fill="none" stroke="#1a1a1a" stroke-width="1.3" stroke-linecap="square"/>
<path d="M148.50 456.60H151.10" stroke="#1a1a1a" stroke-width="1.1"/>
<path d="M148.50 472.00H151.10" stroke="#1a1a1a" stroke-width="1.1"/>
<path d="M148.50 487.40H151.10" stroke="#1a1a1a" stroke-width="1.1"/>
<path d="M148.50 502.80H151.10" stroke="#1a1a1a" stroke-width="1.1"/>
<path d="M148.50 518.20H151.10" stroke="#1a1a1a" stroke-width="1.1"/>
<path d="M170.00 518.40V515.80" stroke="#1a1a1a" stroke-width="1.1"/>
<path d="M190.70 518.40V515.80" stroke="#1a1a1a" stroke-width="1.1"/>
<path d="M211.50 518.40V515.80" stroke="#1a1a1a" stroke-width="1.1"/>
<text transform="translate(137.60,459.93)" font-size="9.8" fill="#5a5a5a" font-family="'Liberation Serif', 'Times New Roman', serif" text-anchor="end">80,000</text>
<text transform="translate(137.60,475.33)" font-size="9.8" fill="#5a5a5a" font-family="'Liberation Serif', 'Times New Roman', serif" text-anchor="end">60,000</text>
<text transform="translate(137.60,490.73)" font-size="9.8" fill="#5a5a5a" font-family="'Liberation Serif', 'Times New Roman', serif" text-anchor="end">40,000</text>
<text transform="translate(137.60,506.13)" font-size="9.8" fill="#5a5a5a" font-family="'Liberation Serif', 'Times New Roman', serif" text-anchor="end">20,000</text>
<text transform="translate(137.60,521.53)" font-size="9.8" fill="#5a5a5a" font-family="'Liberation Serif', 'Times New Roman', serif" text-anchor="end">0</text>
<rect x="156.10" y="475.90" width="6.80" height="42.50" fill="#1fb04e"/>
<path d="M159.50 466.70V484.60M157.20 466.70H161.80M157.20 484.60H161.80" stroke="#404040" stroke-width="0.9" fill="none"/>
<rect x="176.90" y="502.70" width="6.50" height="15.70" fill="#1fb04e"/>
<path d="M180.15 501.00V504.20M177.85 501.00H182.45M177.85 504.20H182.45" stroke="#404040" stroke-width="0.9" fill="none"/>
<rect x="198.00" y="514.70" width="6.50" height="3.70" fill="#1fb04e"/>
<path d="M201.25 513.80V515.60M198.95 513.80H203.55M198.95 515.60H203.55" stroke="#404040" stroke-width="0.9" fill="none"/>
<text transform="translate(159.50,458.44) scale(0.9,1)" font-size="10.2" fill="#5a5a5a" font-family="'Liberation Serif', 'Times New Roman', serif" text-anchor="middle">a</text>
<text transform="translate(180.10,495.14) scale(0.9,1)" font-size="10.2" fill="#5a5a5a" font-family="'Liberation Serif', 'Times New Roman', serif" text-anchor="middle">b</text>
<text transform="translate(201.50,507.54) scale(0.9,1)" font-size="10.2" fill="#5a5a5a" font-family="'Liberation Serif', 'Times New Roman', serif" text-anchor="middle">b</text>
<text transform="translate(159.50,532.97) scale(0.9,1)" font-size="10.2" fill="#5a5a5a" font-family="'Liberation Serif', 'Times New Roman', serif" text-anchor="middle">L1</text>
<text transform="translate(180.10,532.97) scale(0.9,1)" font-size="10.2" fill="#5a5a5a" font-family="'Liberation Serif', 'Times New Roman', serif" text-anchor="middle">L2</text>
<text transform="translate(201.50,532.97) scale(0.9,1)" font-size="10.2" fill="#5a5a5a" font-family="'Liberation Serif', 'Times New Roman', serif" text-anchor="middle">L3</text>
<text transform="translate(183.80,545.35) scale(0.9,1)" font-size="10.5" fill="#5a5a5a" font-family="'Liberation Serif', 'Times New Roman', serif" text-anchor="middle">Stage</text>
<text transform="translate(112.80,532.60) rotate(-90)" font-size="11.2" fill="#666666" font-family="'Liberation Serif', 'Times New Roman', serif" text-anchor="start" textLength="93.9" lengthAdjust="spacingAndGlyphs">Pyruvic acid (peak area)</text>
<path d="M257.60 456.60V518.40H316.20" fill="none" stroke="#1a1a1a" stroke-width="1.3" stroke-linecap="square"/>
<path d="M257.60 456.60H260.20" stroke="#1a1a1a" stroke-width="1.1"/>
<path d="M257.60 464.30H260.20" stroke="#1a1a1a" stroke-width="1.1"/>
<path d="M257.60 472.00H260.20" stroke="#1a1a1a" stroke-width="1.1"/>
<path d="M257.60 479.70H260.20" stroke="#1a1a1a" stroke-width="1.1"/>
<path d="M257.60 487.40H260.20" stroke="#1a1a1a" stroke-width="1.1"/>
<path d="M257.60 495.10H260.20" stroke="#1a1a1a" stroke-width="1.1"/>
<path d="M257.60 502.80H260.20" stroke="#1a1a1a" stroke-width="1.1"/>
<path d="M257.60 510.50H260.20" stroke="#1a1a1a" stroke-width="1.1"/>
<path d="M257.60 518.20H260.20" stroke="#1a1a1a" stroke-width="1.1"/>
<path d="M276.60 518.40V515.80" stroke="#1a1a1a" stroke-width="1.1"/>
<path d="M296.30 518.40V515.80" stroke="#1a1a1a" stroke-width="1.1"/>
<path d="M316.20 518.40V515.80" stroke="#1a1a1a" stroke-width="1.1"/>
<text transform="translate(246.40,459.83)" font-size="9.5" fill="#5a5a5a" font-family="'Liberation Serif', 'Times New Roman', serif" text-anchor="end">80,000</text>
<text transform="translate(246.40,467.53)" font-size="9.5" fill="#5a5a5a" font-family="'Liberation Serif', 'Times New Roman', serif" text-anchor="end">70,000</text>
<text transform="translate(246.40,475.23)" font-size="9.5" fill="#5a5a5a" font-family="'Liberation Serif', 'Times New Roman', serif" text-anchor="end">60,000</text>
<text transform="translate(246.40,482.93)" font-size="9.5" fill="#5a5a5a" font-family="'Liberation Serif', 'Times New Roman', serif" text-anchor="end">50,000</text>
<text transform="translate(246.40,490.63)" font-size="9.5" fill="#5a5a5a" font-family="'Liberation Serif', 'Times New Roman', serif" text-anchor="end">40,000</text>
<text transform="translate(246.40,498.33)" font-size="9.5" fill="#5a5a5a" font-family="'Liberation Serif', 'Times New Roman', serif" text-anchor="end">30,000</text>
<text transform="translate(246.40,506.03)" font-size="9.5" fill="#5a5a5a" font-family="'Liberation Serif', 'Times New Roman', serif" text-anchor="end">20,000</text>
<text transform="translate(246.40,513.73)" font-size="9.5" fill="#5a5a5a" font-family="'Liberation Serif', 'Times New Roman', serif" text-anchor="end">10,000</text>
<text transform="translate(246.40,521.43)" font-size="9.5" fill="#5a5a5a" font-family="'Liberation Serif', 'Times New Roman', serif" text-anchor="end">0</text>
<rect x="264.20" y="478.50" width="6.10" height="39.90" fill="#1fb04e"/>
<path d="M267.25 474.80V481.30M264.95 474.80H269.55M264.95 481.30H269.55" stroke="#404040" stroke-width="0.9" fill="none"/>
<rect x="283.80" y="470.00" width="6.60" height="48.40" fill="#1fb04e"/>
<path d="M287.10 462.30V478.00M284.80 462.30H289.40M284.80 478.00H289.40" stroke="#404040" stroke-width="0.9" fill="none"/>
<rect x="303.50" y="515.60" width="6.10" height="2.80" fill="#1fb04e"/>
<path d="M306.55 514.80V516.40M304.25 514.80H308.85M304.25 516.40H308.85" stroke="#404040" stroke-width="0.9" fill="none"/>
<text transform="translate(267.20,471.34) scale(0.9,1)" font-size="10.2" fill="#5a5a5a" font-family="'Liberation Serif', 'Times New Roman', serif" text-anchor="middle">a</text>
<text transform="translate(286.80,455.84) scale(0.9,1)" font-size="10.2" fill="#5a5a5a" font-family="'Liberation Serif', 'Times New Roman', serif" text-anchor="middle">a</text>
<text transform="translate(306.60,508.24) scale(0.9,1)" font-size="10.2" fill="#5a5a5a" font-family="'Liberation Serif', 'Times New Roman', serif" text-anchor="middle">b</text>
<text transform="translate(267.20,533.47) scale(0.9,1)" font-size="10.2" fill="#5a5a5a" font-family="'Liberation Serif', 'Times New Roman', serif" text-anchor="middle">L1</text>
<text transform="translate(286.80,533.47) scale(0.9,1)" font-size="10.2" fill="#5a5a5a" font-family="'Liberation Serif', 'Times New Roman', serif" text-anchor="middle">L2</text>
<text transform="translate(306.60,533.47) scale(0.9,1)" font-size="10.2" fill="#5a5a5a" font-family="'Liberation Serif', 'Times New Roman', serif" text-anchor="middle">L3</text>
<text transform="translate(285.60,545.55) scale(0.9,1)" font-size="10.5" fill="#5a5a5a" font-family="'Liberation Serif', 'Times New Roman', serif" text-anchor="middle">Stage</text>
<text transform="translate(220.70,544.60) rotate(-90)" font-size="11.2" fill="#666666" font-family="'Liberation Serif', 'Times New Roman', serif" text-anchor="start" textLength="112.4" lengthAdjust="spacingAndGlyphs">Oxoglutaric acid (peak area)</text>
<path d="M364.80 453.50V514.30H420.10" fill="none" stroke="#1a1a1a" stroke-width="1.3" stroke-linecap="square"/>
<path d="M364.80 453.50H367.60" stroke="#1a1a1a" stroke-width="1.1"/>
<path d="M364.80 473.90H367.60" stroke="#1a1a1a" stroke-width="1.1"/>
<path d="M364.80 494.10H367.60" stroke="#1a1a1a" stroke-width="1.1"/>
<path d="M364.80 514.30H367.60" stroke="#1a1a1a" stroke-width="1.1"/>
<path d="M383.80 514.30V511.70" stroke="#1a1a1a" stroke-width="1.1"/>
<path d="M402.50 514.30V511.70" stroke="#1a1a1a" stroke-width="1.1"/>
<path d="M420.10 514.30V511.70" stroke="#1a1a1a" stroke-width="1.1"/>
<text transform="translate(353.40,456.93) scale(0.89,1)" font-size="10.1" fill="#5a5a5a" font-family="'Liberation Sans', Arial, sans-serif" text-anchor="end">150,000</text>
<text transform="translate(353.40,477.33) scale(0.89,1)" font-size="10.1" fill="#5a5a5a" font-family="'Liberation Sans', Arial, sans-serif" text-anchor="end">100,000</text>
<text transform="translate(353.40,497.53) scale(0.89,1)" font-size="10.1" fill="#5a5a5a" font-family="'Liberation Sans', Arial, sans-serif" text-anchor="end">50,000</text>
<text transform="translate(353.40,517.73) scale(0.89,1)" font-size="10.1" fill="#5a5a5a" font-family="'Liberation Sans', Arial, sans-serif" text-anchor="end">0</text>
<rect x="371.20" y="473.00" width="6.00" height="41.30" fill="#1fb04e"/>
<path d="M374.20 467.90V477.40M371.30 467.90H377.10M371.30 477.40H377.10" stroke="#404040" stroke-width="0.9" fill="none"/>
<rect x="390.40" y="494.30" width="5.50" height="20.00" fill="#1fb04e"/>
<path d="M393.15 491.70V495.60M390.25 491.70H396.05M390.25 495.60H396.05" stroke="#404040" stroke-width="0.9" fill="none"/>
<rect x="409.10" y="504.20" width="6.00" height="10.10" fill="#1fb04e"/>
<path d="M412.10 503.10V505.60M409.20 503.10H415.00M409.20 505.60H415.00" stroke="#404040" stroke-width="0.9" fill="none"/>
<text transform="translate(374.20,460.62) scale(0.92,1)" font-size="9.2" fill="#5a5a5a" font-family="'Liberation Sans', Arial, sans-serif" text-anchor="middle">a</text>
<text transform="translate(393.20,484.92) scale(0.92,1)" font-size="9.2" fill="#5a5a5a" font-family="'Liberation Sans', Arial, sans-serif" text-anchor="middle">b</text>
<text transform="translate(412.10,495.92) scale(0.92,1)" font-size="9.2" fill="#5a5a5a" font-family="'Liberation Sans', Arial, sans-serif" text-anchor="middle">c</text>
<text transform="translate(374.20,530.03) scale(0.92,1)" font-size="9.2" fill="#5a5a5a" font-family="'Liberation Sans', Arial, sans-serif" text-anchor="middle">L1</text>
<text transform="translate(393.20,530.03) scale(0.92,1)" font-size="9.2" fill="#5a5a5a" font-family="'Liberation Sans', Arial, sans-serif" text-anchor="middle">L2</text>
<text transform="translate(412.10,530.03) scale(0.92,1)" font-size="9.2" fill="#5a5a5a" font-family="'Liberation Sans', Arial, sans-serif" text-anchor="middle">L3</text>
<text transform="translate(391.90,542.09) scale(0.84,1)" font-size="10.3" fill="#5a5a5a" font-family="'Liberation Sans', Arial, sans-serif" text-anchor="middle">Stage</text>
<text transform="translate(324.40,507.50) rotate(-90)" font-size="10.0" fill="#666666" font-family="'Liberation Sans', Arial, sans-serif" text-anchor="start" textLength="75.8" lengthAdjust="spacingAndGlyphs">Succinic acid (peak...</text>
<path d="M482.90 455.90V518.50H541.60" fill="none" stroke="#1a1a1a" stroke-width="1.3" stroke-linecap="square"/>
<path d="M482.90 455.90H485.70" stroke="#1a1a1a" stroke-width="1.1"/>
<path d="M482.90 471.60H485.70" stroke="#1a1a1a" stroke-width="1.1"/>
<path d="M482.90 487.20H485.70" stroke="#1a1a1a" stroke-width="1.1"/>
<path d="M482.90 502.90H485.70" stroke="#1a1a1a" stroke-width="1.1"/>
<path d="M482.90 518.50H485.70" stroke="#1a1a1a" stroke-width="1.1"/>
<path d="M502.10 518.50V515.90" stroke="#1a1a1a" stroke-width="1.1"/>
<path d="M522.10 518.50V515.90" stroke="#1a1a1a" stroke-width="1.1"/>
<path d="M541.60 518.50V515.90" stroke="#1a1a1a" stroke-width="1.1"/>
<text transform="translate(470.90,459.33) scale(0.89,1)" font-size="10.1" fill="#5a5a5a" font-family="'Liberation Sans', Arial, sans-serif" text-anchor="end">20,000,000</text>
<text transform="translate(470.90,475.03) scale(0.89,1)" font-size="10.1" fill="#5a5a5a" font-family="'Liberation Sans', Arial, sans-serif" text-anchor="end">15,000,000</text>
<text transform="translate(470.90,490.63) scale(0.89,1)" font-size="10.1" fill="#5a5a5a" font-family="'Liberation Sans', Arial, sans-serif" text-anchor="end">10,000,000</text>
<text transform="translate(470.90,506.33) scale(0.89,1)" font-size="10.1" fill="#5a5a5a" font-family="'Liberation Sans', Arial, sans-serif" text-anchor="end">5,000,000</text>
<text transform="translate(470.90,521.93) scale(0.89,1)" font-size="10.1" fill="#5a5a5a" font-family="'Liberation Sans', Arial, sans-serif" text-anchor="end">0</text>
<rect x="488.80" y="475.90" width="6.40" height="42.60" fill="#1fb04e"/>
<path d="M492.00 473.10V478.60M489.10 473.10H494.90M489.10 478.60H494.90" stroke="#404040" stroke-width="0.9" fill="none"/>
<rect x="509.00" y="500.60" width="6.20" height="17.90" fill="#1fb04e"/>
<path d="M512.10 498.30V502.90M509.20 498.30H515.00M509.20 502.90H515.00" stroke="#404040" stroke-width="0.9" fill="none"/>
<rect x="528.90" y="514.90" width="6.20" height="3.60" fill="#1fb04e"/>
<path d="M532.00 514.20V515.60M529.10 514.20H534.90M529.10 515.60H534.90" stroke="#404040" stroke-width="0.9" fill="none"/>
<text transform="translate(492.00,467.62) scale(0.92,1)" font-size="9.2" fill="#5a5a5a" font-family="'Liberation Sans', Arial, sans-serif" text-anchor="middle">a</text>
<text transform="translate(512.10,491.62) scale(0.92,1)" font-size="9.2" fill="#5a5a5a" font-family="'Liberation Sans', Arial, sans-serif" text-anchor="middle">b</text>
<text transform="translate(532.00,506.52) scale(0.92,1)" font-size="9.2" fill="#5a5a5a" font-family="'Liberation Sans', Arial, sans-serif" text-anchor="middle">c</text>
<text transform="translate(492.00,534.03) scale(0.92,1)" font-size="9.2" fill="#5a5a5a" font-family="'Liberation Sans', Arial, sans-serif" text-anchor="middle">L1</text>
<text transform="translate(512.10,534.03) scale(0.92,1)" font-size="9.2" fill="#5a5a5a" font-family="'Liberation Sans', Arial, sans-serif" text-anchor="middle">L2</text>
<text transform="translate(532.00,534.03) scale(0.92,1)" font-size="9.2" fill="#5a5a5a" font-family="'Liberation Sans', Arial, sans-serif" text-anchor="middle">L3</text>
<text transform="translate(511.30,544.29) scale(0.84,1)" font-size="10.3" fill="#5a5a5a" font-family="'Liberation Sans', Arial, sans-serif" text-anchor="middle">Stage</text>
<text transform="translate(432.10,526.30) rotate(-90)" font-size="10.0" fill="#666666" font-family="'Liberation Sans', Arial, sans-serif" text-anchor="start" textLength="86.0" lengthAdjust="spacingAndGlyphs">Citric acid (peak area)</text>
</svg>
</body></html>
